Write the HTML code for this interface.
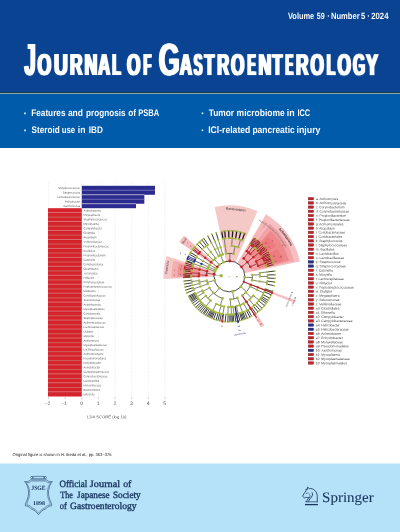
<!DOCTYPE html>
<html lang="en"><head><meta charset="utf-8"><title>Journal of Gastroenterology</title>
<style>html,body{margin:0;padding:0;background:#fff}body{width:400px;height:532px;overflow:hidden}svg{display:block}</style>
</head><body>
<svg width="400" height="532" viewBox="0 0 400 532" text-rendering="geometricPrecision">
<rect x="0" y="0" width="400" height="532" fill="#ffffff"/>
<rect x="0" y="0" width="400" height="92" fill="#0a4391"/>
<rect x="0" y="92" width="400" height="1" fill="#1c3f45"/>
<rect x="0" y="93" width="400" height="1" fill="#7faaae"/>
<rect x="0" y="94" width="400" height="54" fill="#005baa"/>
<rect x="0" y="463" width="400" height="1" fill="#dbf0fc"/>
<rect x="0" y="464" width="400" height="68" fill="#b6e2f9"/>
<text y="18.5" font-family="Liberation Sans, Arial, sans-serif" font-size="9.1" font-weight="bold" fill="#f4f8fd" transform="rotate(0.02)" ><tspan x="287.95" textLength="26.30" lengthAdjust="spacingAndGlyphs">Volume</tspan> <tspan x="316.78" textLength="7.99" lengthAdjust="spacingAndGlyphs">59</tspan> <tspan x="327.31" textLength="2.84" lengthAdjust="spacingAndGlyphs">·</tspan> <tspan x="330.99" textLength="28.62" lengthAdjust="spacingAndGlyphs">Number</tspan> <tspan x="360.97" textLength="4.25" lengthAdjust="spacingAndGlyphs">5</tspan> <tspan x="367.31" textLength="2.84" lengthAdjust="spacingAndGlyphs">·</tspan> <tspan x="371.23" textLength="17.31" lengthAdjust="spacingAndGlyphs">2024</tspan></text>
<defs><filter id="fat" x="-2%" y="-10%" width="104%" height="120%"><feOffset in="SourceGraphic" dx="-0.75" dy="0" result="a"/><feOffset in="SourceGraphic" dx="0.75" dy="0" result="b"/><feMerge><feMergeNode in="a"/><feMergeNode in="SourceGraphic"/><feMergeNode in="b"/></feMerge></filter></defs>
<text y="75.05" font-family="Liberation Sans, Arial, sans-serif" font-size="30.5" font-weight="bold" fill="#fff" filter="url(#fat)" transform="rotate(0.02)" aria-label="JOURNAL OF GASTROENTEROLOGY"><tspan x="24.45" textLength="11.18" lengthAdjust="spacingAndGlyphs" font-size="45.0">J</tspan><tspan x="37.52" textLength="13.77" lengthAdjust="spacingAndGlyphs">O</tspan><tspan x="54.10" textLength="13.82" lengthAdjust="spacingAndGlyphs">U</tspan><tspan x="70.09" textLength="12.51" lengthAdjust="spacingAndGlyphs">R</tspan><tspan x="84.56" textLength="12.90" lengthAdjust="spacingAndGlyphs">N</tspan><tspan x="98.34" textLength="11.84" lengthAdjust="spacingAndGlyphs">A</tspan><tspan x="112.34" textLength="8.33" lengthAdjust="spacingAndGlyphs">L</tspan> <tspan x="127.04" textLength="13.43" lengthAdjust="spacingAndGlyphs">O</tspan><tspan x="143.39" textLength="7.83" lengthAdjust="spacingAndGlyphs">F</tspan> <tspan x="158.64" textLength="20.98" lengthAdjust="spacingAndGlyphs" font-size="45.0">G</tspan><tspan x="179.82" textLength="12.38" lengthAdjust="spacingAndGlyphs">A</tspan><tspan x="193.87" textLength="8.68" lengthAdjust="spacingAndGlyphs">S</tspan><tspan x="204.57" textLength="9.85" lengthAdjust="spacingAndGlyphs">T</tspan><tspan x="217.14" textLength="11.95" lengthAdjust="spacingAndGlyphs">R</tspan><tspan x="231.04" textLength="13.43" lengthAdjust="spacingAndGlyphs">O</tspan><tspan x="247.42" textLength="8.32" lengthAdjust="spacingAndGlyphs">E</tspan><tspan x="258.56" textLength="12.90" lengthAdjust="spacingAndGlyphs">N</tspan><tspan x="272.57" textLength="9.85" lengthAdjust="spacingAndGlyphs">T</tspan><tspan x="285.47" textLength="7.73" lengthAdjust="spacingAndGlyphs">E</tspan><tspan x="296.09" textLength="12.51" lengthAdjust="spacingAndGlyphs">R</tspan><tspan x="310.54" textLength="13.43" lengthAdjust="spacingAndGlyphs">O</tspan><tspan x="326.82" textLength="8.45" lengthAdjust="spacingAndGlyphs">L</tspan><tspan x="337.54" textLength="13.43" lengthAdjust="spacingAndGlyphs">O</tspan><tspan x="353.11" textLength="12.10" lengthAdjust="spacingAndGlyphs">G</tspan><tspan x="365.94" textLength="12.10" lengthAdjust="spacingAndGlyphs">Y</tspan></text>
<text y="115.6" font-family="Liberation Sans, Arial, sans-serif" font-size="9.6" font-weight="bold" fill="#f6f9fd" transform="rotate(0.02)" ><tspan x="31.25" textLength="34.29" lengthAdjust="spacingAndGlyphs">Features</tspan> <tspan x="67.95" textLength="15.11" lengthAdjust="spacingAndGlyphs">and</tspan> <tspan x="86.16" textLength="39.37" lengthAdjust="spacingAndGlyphs">prognosis</tspan> <tspan x="128.18" textLength="7.81" lengthAdjust="spacingAndGlyphs">of</tspan> <tspan x="138.19" textLength="21.01" lengthAdjust="spacingAndGlyphs">PSBA</tspan></text>
<text y="133.2" font-family="Liberation Sans, Arial, sans-serif" font-size="9.6" font-weight="bold" fill="#f6f9fd" transform="rotate(0.02)" ><tspan x="31.56" textLength="28.17" lengthAdjust="spacingAndGlyphs">Steroid</tspan> <tspan x="61.71" textLength="13.56" lengthAdjust="spacingAndGlyphs">use</tspan> <tspan x="77.90" textLength="7.63" lengthAdjust="spacingAndGlyphs">in</tspan> <tspan x="88.75" textLength="14.09" lengthAdjust="spacingAndGlyphs">IBD</tspan></text>
<text y="115.6" font-family="Liberation Sans, Arial, sans-serif" font-size="9.6" font-weight="bold" fill="#f6f9fd" transform="rotate(0.02)" ><tspan x="208.71" textLength="25.42" lengthAdjust="spacingAndGlyphs">Tumor</tspan> <tspan x="236.64" textLength="48.15" lengthAdjust="spacingAndGlyphs">microbiome</tspan> <tspan x="286.88" textLength="7.87" lengthAdjust="spacingAndGlyphs">in</tspan> <tspan x="297.51" textLength="12.69" lengthAdjust="spacingAndGlyphs">ICC</tspan></text>
<text y="133.2" font-family="Liberation Sans, Arial, sans-serif" font-size="9.6" font-weight="bold" fill="#f6f9fd" transform="rotate(0.02)" ><tspan x="208.22" textLength="42.14" lengthAdjust="spacingAndGlyphs">ICl-related</tspan> <tspan x="252.44" textLength="42.31" lengthAdjust="spacingAndGlyphs">pancreatic</tspan> <tspan x="296.59" textLength="23.96" lengthAdjust="spacingAndGlyphs">injury</tspan></text>
<text y="116.96" font-family="Liberation Sans, Arial, sans-serif" font-size="11" font-weight="bold" fill="#e6eef9" transform="rotate(0.02)" ><tspan x="23.52" textLength="3.55" lengthAdjust="spacingAndGlyphs">·</tspan></text>
<text y="134.36" font-family="Liberation Sans, Arial, sans-serif" font-size="11" font-weight="bold" fill="#e6eef9" transform="rotate(0.02)" ><tspan x="23.52" textLength="3.55" lengthAdjust="spacingAndGlyphs">·</tspan></text>
<text y="116.96" font-family="Liberation Sans, Arial, sans-serif" font-size="11" font-weight="bold" fill="#e6eef9" transform="rotate(0.02)" ><tspan x="201.02" textLength="3.55" lengthAdjust="spacingAndGlyphs">·</tspan></text>
<text y="134.36" font-family="Liberation Sans, Arial, sans-serif" font-size="11" font-weight="bold" fill="#e6eef9" transform="rotate(0.02)" ><tspan x="201.02" textLength="3.55" lengthAdjust="spacingAndGlyphs">·</tspan></text>
<g id="bars">
<line x1="48.54" y1="182" x2="48.54" y2="398" stroke="#c9c9c9" stroke-width="0.45" stroke-dasharray="0.5 0.9"/>
<line x1="48.54" y1="397.6" x2="48.54" y2="399.2" stroke="#777" stroke-width="0.4"/>
<line x1="65.17" y1="182" x2="65.17" y2="398" stroke="#c9c9c9" stroke-width="0.45" stroke-dasharray="0.5 0.9"/>
<line x1="65.17" y1="397.6" x2="65.17" y2="399.2" stroke="#777" stroke-width="0.4"/>
<line x1="81.80" y1="182" x2="81.80" y2="398" stroke="#c9c9c9" stroke-width="0.45" stroke-dasharray="0.5 0.9"/>
<line x1="81.80" y1="397.6" x2="81.80" y2="399.2" stroke="#777" stroke-width="0.4"/>
<line x1="98.43" y1="182" x2="98.43" y2="398" stroke="#c9c9c9" stroke-width="0.45" stroke-dasharray="0.5 0.9"/>
<line x1="98.43" y1="397.6" x2="98.43" y2="399.2" stroke="#777" stroke-width="0.4"/>
<line x1="115.06" y1="182" x2="115.06" y2="398" stroke="#c9c9c9" stroke-width="0.45" stroke-dasharray="0.5 0.9"/>
<line x1="115.06" y1="397.6" x2="115.06" y2="399.2" stroke="#777" stroke-width="0.4"/>
<line x1="131.69" y1="182" x2="131.69" y2="398" stroke="#c9c9c9" stroke-width="0.45" stroke-dasharray="0.5 0.9"/>
<line x1="131.69" y1="397.6" x2="131.69" y2="399.2" stroke="#777" stroke-width="0.4"/>
<line x1="148.32" y1="182" x2="148.32" y2="398" stroke="#c9c9c9" stroke-width="0.45" stroke-dasharray="0.5 0.9"/>
<line x1="148.32" y1="397.6" x2="148.32" y2="399.2" stroke="#777" stroke-width="0.4"/>
<line x1="164.95" y1="182" x2="164.95" y2="398" stroke="#c9c9c9" stroke-width="0.45" stroke-dasharray="0.5 0.9"/>
<line x1="164.95" y1="397.6" x2="164.95" y2="399.2" stroke="#777" stroke-width="0.4"/>
<rect x="81.8" y="185.8" width="73.17" height="8.97" fill="#2b2b8d"/>
<rect x="81.8" y="194.77" width="62.53" height="8.97" fill="#2b2b8d"/>
<rect x="81.8" y="203.73" width="54.21" height="4.48" fill="#2b2b8d"/>
<rect x="48.0" y="208.21" width="33.80" height="188.29" fill="#d7232b"/>
<line x1="81.8" y1="190.28" x2="154.97" y2="190.28" stroke="#8a87c9" stroke-width="0.7"/>
<line x1="81.8" y1="194.77" x2="144.33" y2="194.77" stroke="#efeffa" stroke-width="0.55"/>
<line x1="81.8" y1="199.25" x2="144.33" y2="199.25" stroke="#8a87c9" stroke-width="0.7"/>
<line x1="81.8" y1="203.73" x2="136.01" y2="203.73" stroke="#efeffa" stroke-width="0.55"/>
<line x1="48.0" y1="212.60" x2="81.8" y2="212.60" stroke="#f9c6c6" stroke-width="0.55"/>
<line x1="48.0" y1="213.15" x2="81.8" y2="213.15" stroke="#9c1a1f" stroke-width="0.3"/>
<line x1="48.0" y1="217.18" x2="81.8" y2="217.18" stroke="#c9776f" stroke-width="0.75"/>
<line x1="48.0" y1="221.56" x2="81.8" y2="221.56" stroke="#f9c6c6" stroke-width="0.55"/>
<line x1="48.0" y1="222.11" x2="81.8" y2="222.11" stroke="#9c1a1f" stroke-width="0.3"/>
<line x1="48.0" y1="226.15" x2="81.8" y2="226.15" stroke="#c9776f" stroke-width="0.75"/>
<line x1="48.0" y1="230.53" x2="81.8" y2="230.53" stroke="#f9c6c6" stroke-width="0.55"/>
<line x1="48.0" y1="231.08" x2="81.8" y2="231.08" stroke="#9c1a1f" stroke-width="0.3"/>
<line x1="48.0" y1="235.11" x2="81.8" y2="235.11" stroke="#c9776f" stroke-width="0.75"/>
<line x1="48.0" y1="239.50" x2="81.8" y2="239.50" stroke="#f9c6c6" stroke-width="0.55"/>
<line x1="48.0" y1="240.05" x2="81.8" y2="240.05" stroke="#9c1a1f" stroke-width="0.3"/>
<line x1="48.0" y1="244.08" x2="81.8" y2="244.08" stroke="#c9776f" stroke-width="0.75"/>
<line x1="48.0" y1="248.46" x2="81.8" y2="248.46" stroke="#f9c6c6" stroke-width="0.55"/>
<line x1="48.0" y1="249.01" x2="81.8" y2="249.01" stroke="#9c1a1f" stroke-width="0.3"/>
<line x1="48.0" y1="253.04" x2="81.8" y2="253.04" stroke="#c9776f" stroke-width="0.75"/>
<line x1="48.0" y1="257.43" x2="81.8" y2="257.43" stroke="#f9c6c6" stroke-width="0.55"/>
<line x1="48.0" y1="257.98" x2="81.8" y2="257.98" stroke="#9c1a1f" stroke-width="0.3"/>
<line x1="48.0" y1="262.01" x2="81.8" y2="262.01" stroke="#c9776f" stroke-width="0.75"/>
<line x1="48.0" y1="266.39" x2="81.8" y2="266.39" stroke="#f9c6c6" stroke-width="0.55"/>
<line x1="48.0" y1="266.94" x2="81.8" y2="266.94" stroke="#9c1a1f" stroke-width="0.3"/>
<line x1="48.0" y1="270.98" x2="81.8" y2="270.98" stroke="#c9776f" stroke-width="0.75"/>
<line x1="48.0" y1="275.36" x2="81.8" y2="275.36" stroke="#f9c6c6" stroke-width="0.55"/>
<line x1="48.0" y1="275.91" x2="81.8" y2="275.91" stroke="#9c1a1f" stroke-width="0.3"/>
<line x1="48.0" y1="279.94" x2="81.8" y2="279.94" stroke="#c9776f" stroke-width="0.75"/>
<line x1="48.0" y1="284.33" x2="81.8" y2="284.33" stroke="#f9c6c6" stroke-width="0.55"/>
<line x1="48.0" y1="284.88" x2="81.8" y2="284.88" stroke="#9c1a1f" stroke-width="0.3"/>
<line x1="48.0" y1="288.91" x2="81.8" y2="288.91" stroke="#c9776f" stroke-width="0.75"/>
<line x1="48.0" y1="293.29" x2="81.8" y2="293.29" stroke="#f9c6c6" stroke-width="0.55"/>
<line x1="48.0" y1="293.84" x2="81.8" y2="293.84" stroke="#9c1a1f" stroke-width="0.3"/>
<line x1="48.0" y1="297.87" x2="81.8" y2="297.87" stroke="#c9776f" stroke-width="0.75"/>
<line x1="48.0" y1="302.26" x2="81.8" y2="302.26" stroke="#f9c6c6" stroke-width="0.55"/>
<line x1="48.0" y1="302.81" x2="81.8" y2="302.81" stroke="#9c1a1f" stroke-width="0.3"/>
<line x1="48.0" y1="306.84" x2="81.8" y2="306.84" stroke="#c9776f" stroke-width="0.75"/>
<line x1="48.0" y1="311.22" x2="81.8" y2="311.22" stroke="#f9c6c6" stroke-width="0.55"/>
<line x1="48.0" y1="311.77" x2="81.8" y2="311.77" stroke="#9c1a1f" stroke-width="0.3"/>
<line x1="48.0" y1="315.81" x2="81.8" y2="315.81" stroke="#c9776f" stroke-width="0.75"/>
<line x1="48.0" y1="320.19" x2="81.8" y2="320.19" stroke="#f9c6c6" stroke-width="0.55"/>
<line x1="48.0" y1="320.74" x2="81.8" y2="320.74" stroke="#9c1a1f" stroke-width="0.3"/>
<line x1="48.0" y1="324.77" x2="81.8" y2="324.77" stroke="#c9776f" stroke-width="0.75"/>
<line x1="48.0" y1="329.16" x2="81.8" y2="329.16" stroke="#f9c6c6" stroke-width="0.55"/>
<line x1="48.0" y1="329.71" x2="81.8" y2="329.71" stroke="#9c1a1f" stroke-width="0.3"/>
<line x1="48.0" y1="333.74" x2="81.8" y2="333.74" stroke="#c9776f" stroke-width="0.75"/>
<line x1="48.0" y1="338.12" x2="81.8" y2="338.12" stroke="#f9c6c6" stroke-width="0.55"/>
<line x1="48.0" y1="338.67" x2="81.8" y2="338.67" stroke="#9c1a1f" stroke-width="0.3"/>
<line x1="48.0" y1="342.70" x2="81.8" y2="342.70" stroke="#c9776f" stroke-width="0.75"/>
<line x1="48.0" y1="347.09" x2="81.8" y2="347.09" stroke="#f9c6c6" stroke-width="0.55"/>
<line x1="48.0" y1="347.64" x2="81.8" y2="347.64" stroke="#9c1a1f" stroke-width="0.3"/>
<line x1="48.0" y1="351.67" x2="81.8" y2="351.67" stroke="#c9776f" stroke-width="0.75"/>
<line x1="48.0" y1="356.05" x2="81.8" y2="356.05" stroke="#f9c6c6" stroke-width="0.55"/>
<line x1="48.0" y1="356.60" x2="81.8" y2="356.60" stroke="#9c1a1f" stroke-width="0.3"/>
<line x1="48.0" y1="360.64" x2="81.8" y2="360.64" stroke="#c9776f" stroke-width="0.75"/>
<line x1="48.0" y1="365.02" x2="81.8" y2="365.02" stroke="#f9c6c6" stroke-width="0.55"/>
<line x1="48.0" y1="365.57" x2="81.8" y2="365.57" stroke="#9c1a1f" stroke-width="0.3"/>
<line x1="48.0" y1="369.60" x2="81.8" y2="369.60" stroke="#c9776f" stroke-width="0.75"/>
<line x1="48.0" y1="373.99" x2="81.8" y2="373.99" stroke="#f9c6c6" stroke-width="0.55"/>
<line x1="48.0" y1="374.54" x2="81.8" y2="374.54" stroke="#9c1a1f" stroke-width="0.3"/>
<line x1="48.0" y1="378.57" x2="81.8" y2="378.57" stroke="#c9776f" stroke-width="0.75"/>
<line x1="48.0" y1="382.95" x2="81.8" y2="382.95" stroke="#f9c6c6" stroke-width="0.55"/>
<line x1="48.0" y1="383.50" x2="81.8" y2="383.50" stroke="#9c1a1f" stroke-width="0.3"/>
<line x1="48.0" y1="387.53" x2="81.8" y2="387.53" stroke="#c9776f" stroke-width="0.75"/>
<line x1="48.0" y1="391.92" x2="81.8" y2="391.92" stroke="#f9c6c6" stroke-width="0.55"/>
<line x1="48.0" y1="392.47" x2="81.8" y2="392.47" stroke="#9c1a1f" stroke-width="0.3"/>
<g font-family="Liberation Sans, Arial, sans-serif" font-size="2.72" fill="#4a4a4a" transform="rotate(0.03)">
<text x="80.20" y="188.94" text-anchor="end">Streptococcaceae</text>
<text x="80.20" y="193.42" text-anchor="end">Streptococcus</text>
<text x="80.20" y="197.91" text-anchor="end">Helicobacteraceae</text>
<text x="80.20" y="202.39" text-anchor="end">Helicobacter</text>
<text x="80.20" y="206.87" text-anchor="end">Xanthomonas</text>
<text x="83.70" y="211.36">Actinobacteria</text>
<text x="83.70" y="215.84">Megasphaera</text>
<text x="83.70" y="220.32">Staphylococcaceae</text>
<text x="83.70" y="224.81">Mycoplasma</text>
<text x="83.70" y="229.29">Campylobacter</text>
<text x="83.70" y="233.77">Clostridia</text>
<text x="83.70" y="238.25">Atopobium</text>
<text x="83.70" y="242.74">Veillonellaceae</text>
<text x="83.70" y="247.22">Propionibacteriaceae</text>
<text x="83.70" y="251.70">Bacillales</text>
<text x="83.70" y="256.19">Propionibacterium</text>
<text x="83.70" y="260.67">Catonella</text>
<text x="83.70" y="265.15">Coriobacteriales</text>
<text x="83.70" y="269.64">Clostridiales</text>
<text x="83.70" y="274.12">Tenericutes</text>
<text x="83.70" y="278.60">Filifactor</text>
<text x="83.70" y="283.08">Corynebacterium</text>
<text x="83.70" y="287.57">Peptostreptococcaceae</text>
<text x="83.70" y="292.05">Mollicutes</text>
<text x="83.70" y="296.53">Coriobacteriaceae</text>
<text x="83.70" y="301.02">Selenomonas</text>
<text x="83.70" y="305.50">Actinobacteria</text>
<text x="83.70" y="309.98">Mycoplasmatales</text>
<text x="83.70" y="314.46">Coriobacteriia</text>
<text x="83.70" y="318.95">Staphylococcus</text>
<text x="83.70" y="323.43">Actinomycetaceae</text>
<text x="83.70" y="327.91">Lachnospiraceae</text>
<text x="83.70" y="332.40">Dialister</text>
<text x="83.70" y="336.88">Moryella</text>
<text x="83.70" y="341.36">Actinomyces</text>
<text x="83.70" y="345.85">Mycoplasmataceae</text>
<text x="83.70" y="350.33">Lactobacillaceae</text>
<text x="83.70" y="354.81">Actinomycetales</text>
<text x="83.70" y="359.29">Pseudomonadales</text>
<text x="83.70" y="363.78">Enhydrobacter</text>
<text x="83.70" y="368.26">Acinetobacter</text>
<text x="83.70" y="372.74">Campylobacteraceae</text>
<text x="83.70" y="377.23">Corynebacteriaceae</text>
<text x="83.70" y="381.71">Lactobacillus</text>
<text x="83.70" y="386.19">Moraxellaceae</text>
<text x="83.70" y="390.68">Bacteroidetes</text>
<text x="83.70" y="395.16">Eikenella</text>
</g>
<g font-family="Liberation Sans, Arial, sans-serif" font-size="5.1" fill="#5a5a5a" text-anchor="middle" transform="rotate(0.03)">
<text x="47.64" y="405">−2</text>
<text x="64.27" y="405">−1</text>
<text x="81.80" y="405">0</text>
<text x="98.43" y="405">1</text>
<text x="115.06" y="405">2</text>
<text x="131.69" y="405">3</text>
<text x="148.32" y="405">4</text>
<text x="164.95" y="405">5</text>
</g>
<text x="107" y="418.1" font-family="Liberation Sans, Arial, sans-serif" font-size="3.9" fill="#555" text-anchor="middle" textLength="39.4" lengthAdjust="spacingAndGlyphs" transform="rotate(0.03)">LDA SCORE (log 10)</text>
</g>
<g id="clado">
<path d="M257.48 211.19A71 71 0 0 0 214.64 206.95L226.20 261.34A15.4 15.4 0 0 1 235.49 262.26Z" fill="#f6c9c9" fill-opacity="1"/>
<path d="M299.83 261.43A72 72 0 0 0 265.94 214.36L237.22 263.13A15.4 15.4 0 0 1 244.46 273.20Z" fill="#f6c0c2" fill-opacity="1"/>
<path d="M293.87 260.92A66.3 66.3 0 0 0 269.76 223.80L243.40 258.15A23 23 0 0 1 251.76 271.03Z" fill="#f3a3a6" fill-opacity="1"/>
<path d="M288.80 260.48A61.5 61.5 0 0 0 270.55 230.70L249.88 253.66A30.6 30.6 0 0 1 258.96 268.48Z" fill="#ef888b" fill-opacity="1"/>
<path d="M282.75 261.10A55.5 55.5 0 0 0 277.46 248.65L262.48 257.30A38.2 38.2 0 0 1 266.12 265.87Z" fill="#ec7a7e" fill-opacity="1"/>
<path d="M275.95 246.17A55.5 55.5 0 0 0 267.95 236.48L255.94 248.92A38.2 38.2 0 0 1 261.44 255.59Z" fill="#ec7a7e" fill-opacity="1"/>
<path d="M268.37 222.76A66.3 66.3 0 0 0 264.04 219.87L241.42 256.79A23 23 0 0 1 242.92 257.79Z" fill="#f5b4b6" fill-opacity="1"/>
<path d="M166.63 256.00A66 66 0 0 0 163.45 279.05L214.01 277.02A15.4 15.4 0 0 1 214.75 271.64Z" fill="#f6c9c9" fill-opacity="1"/>
<path d="M173.65 260.41A58 58 0 0 0 171.41 277.41L206.40 276.80A23 23 0 0 1 207.29 270.06Z" fill="#f3aeb0" fill-opacity="1"/>
<path d="M178.94 263.82A52 52 0 0 0 177.40 276.40L198.80 276.40A30.6 30.6 0 0 1 199.71 269.00Z" fill="#ef9296" fill-opacity="1"/>
<path d="M184.22 235.72A60.8 60.8 0 0 0 179.29 241.96L210.45 263.37A23 23 0 0 1 212.31 261.01Z" fill="#f4bcbe" fill-opacity="1"/>
<path d="M294.67 303.04A70.5 70.5 0 0 0 295.73 300.28L243.89 281.62A15.4 15.4 0 0 1 243.66 282.22Z" fill="#f6c0c2" fill-opacity="1"/>
<path d="M273.10 293.70A47 47 0 0 0 273.45 292.78L243.83 281.77A15.4 15.4 0 0 1 243.72 282.07Z" fill="#e05a60" fill-opacity="1"/>
<path d="M260.93 327.45A60 60 0 0 0 264.41 325.13L256.24 313.76A46 46 0 0 1 253.57 315.54Z" fill="#f6c4c6" fill-opacity="1"/>
<line x1="241.49" y1="266.86" x2="247.46" y2="262.16" stroke="#8e1820" stroke-width="0.7"/>
<line x1="250.30" y1="266.79" x2="257.20" y2="263.61" stroke="#8e1820" stroke-width="0.7"/>
<line x1="258.14" y1="265.88" x2="265.27" y2="263.27" stroke="#8e1820" stroke-width="0.7"/>
<line x1="266.31" y1="266.55" x2="273.46" y2="264.65" stroke="#5e0d14" stroke-width="0.85"/>
<line x1="265.77" y1="264.72" x2="272.82" y2="262.46" stroke="#5e0d14" stroke-width="0.85"/>
<line x1="265.14" y1="262.91" x2="272.06" y2="260.30" stroke="#8e1820" stroke-width="0.85"/>
<line x1="264.61" y1="261.58" x2="271.43" y2="258.71" stroke="#5e0d14" stroke-width="0.85"/>
<line x1="264.22" y1="260.70" x2="270.97" y2="257.66" stroke="#8e1820" stroke-width="0.85"/>
<line x1="256.09" y1="261.43" x2="262.72" y2="257.71" stroke="#8e1820" stroke-width="0.7"/>
<line x1="263.61" y1="259.40" x2="270.24" y2="256.11" stroke="#8e1820" stroke-width="0.85"/>
<line x1="262.95" y1="258.13" x2="269.45" y2="254.59" stroke="#8e1820" stroke-width="0.85"/>
<line x1="262.48" y1="257.30" x2="268.89" y2="253.59" stroke="#8e1820" stroke-width="0.85"/>
<line x1="261.74" y1="256.07" x2="268.00" y2="252.13" stroke="#5e0d14" stroke-width="0.85"/>
<line x1="247.37" y1="262.04" x2="253.31" y2="257.30" stroke="#8e1820" stroke-width="0.7"/>
<line x1="253.31" y1="257.30" x2="259.25" y2="252.56" stroke="#8e1820" stroke-width="0.7"/>
<line x1="260.68" y1="254.47" x2="266.74" y2="250.22" stroke="#8e1820" stroke-width="0.85"/>
<line x1="259.83" y1="253.31" x2="265.73" y2="248.84" stroke="#8e1820" stroke-width="0.85"/>
<line x1="259.25" y1="252.56" x2="265.03" y2="247.94" stroke="#8e1820" stroke-width="0.85"/>
<line x1="258.64" y1="251.82" x2="264.30" y2="247.05" stroke="#5e0d14" stroke-width="0.85"/>
<line x1="257.69" y1="250.74" x2="263.18" y2="245.76" stroke="#8e1820" stroke-width="0.85"/>
<line x1="243.73" y1="258.41" x2="248.47" y2="252.47" stroke="#8e1820" stroke-width="0.7"/>
<line x1="250.27" y1="254.02" x2="255.45" y2="248.46" stroke="#8e1820" stroke-width="0.7"/>
<line x1="256.37" y1="249.35" x2="261.60" y2="244.11" stroke="#5e0d14" stroke-width="0.85"/>
<line x1="255.34" y1="248.36" x2="260.36" y2="242.92" stroke="#5e0d14" stroke-width="0.85"/>
<line x1="254.63" y1="247.72" x2="259.51" y2="242.16" stroke="#5e0d14" stroke-width="0.85"/>
<line x1="248.43" y1="252.44" x2="253.16" y2="246.49" stroke="#8e1820" stroke-width="0.7"/>
<line x1="253.90" y1="247.09" x2="258.65" y2="241.41" stroke="#5e0d14" stroke-width="0.85"/>
<line x1="253.16" y1="246.49" x2="257.76" y2="240.69" stroke="#8e1820" stroke-width="0.85"/>
<line x1="252.40" y1="245.90" x2="256.86" y2="239.99" stroke="#8e1820" stroke-width="0.85"/>
<line x1="246.58" y1="251.08" x2="250.85" y2="244.79" stroke="#8e1820" stroke-width="0.7"/>
<line x1="251.63" y1="245.34" x2="255.94" y2="239.32" stroke="#8e1820" stroke-width="0.85"/>
<line x1="250.85" y1="244.79" x2="255.00" y2="238.66" stroke="#8e1820" stroke-width="0.85"/>
<line x1="250.05" y1="244.26" x2="254.05" y2="238.03" stroke="#5e0d14" stroke-width="0.85"/>
<line x1="229.77" y1="261.00" x2="229.95" y2="253.41" stroke="#505048" stroke-width="0.7"/>
<line x1="233.62" y1="253.79" x2="235.02" y2="246.32" stroke="#505048" stroke-width="0.7"/>
<line x1="238.31" y1="247.13" x2="240.52" y2="239.85" stroke="#505048" stroke-width="0.7"/>
<line x1="242.13" y1="240.38" x2="244.59" y2="233.41" stroke="#1a1a1a" stroke-width="1.25"/>
<line x1="238.89" y1="239.40" x2="240.73" y2="232.23" stroke="#1a1a1a" stroke-width="1.25"/>
<line x1="231.66" y1="245.88" x2="232.22" y2="238.30" stroke="#505048" stroke-width="0.7"/>
<line x1="235.58" y1="238.70" x2="236.78" y2="231.40" stroke="#1a1a1a" stroke-width="1.25"/>
<line x1="232.22" y1="238.30" x2="232.76" y2="230.92" stroke="#1a1a1a" stroke-width="1.25"/>
<line x1="228.84" y1="238.20" x2="228.73" y2="230.80" stroke="#1a1a1a" stroke-width="1.25"/>
<line x1="226.27" y1="253.61" x2="225.23" y2="246.09" stroke="#505048" stroke-width="0.7"/>
<line x1="225.23" y1="246.09" x2="224.20" y2="238.56" stroke="#505048" stroke-width="0.7"/>
<line x1="225.46" y1="238.40" x2="224.69" y2="231.04" stroke="#1a1a1a" stroke-width="1.25"/>
<line x1="222.94" y1="238.75" x2="221.69" y2="231.46" stroke="#1a1a1a" stroke-width="1.25"/>
<line x1="223.51" y1="262.17" x2="220.60" y2="255.15" stroke="#505048" stroke-width="0.7"/>
<line x1="222.74" y1="254.39" x2="220.54" y2="247.11" stroke="#505048" stroke-width="0.7"/>
<line x1="220.54" y1="247.11" x2="218.34" y2="239.84" stroke="#505048" stroke-width="0.7"/>
<line x1="218.34" y1="239.84" x2="216.19" y2="232.75" stroke="#1a1a1a" stroke-width="0.85"/>
<line x1="220.60" y1="255.15" x2="217.69" y2="248.13" stroke="#505048" stroke-width="0.7"/>
<line x1="217.69" y1="248.13" x2="214.78" y2="241.11" stroke="#505048" stroke-width="0.7"/>
<line x1="214.78" y1="241.11" x2="211.95" y2="234.27" stroke="#1a1a1a" stroke-width="0.85"/>
<line x1="218.54" y1="256.12" x2="214.96" y2="249.42" stroke="#505048" stroke-width="0.7"/>
<line x1="214.96" y1="249.42" x2="211.37" y2="242.72" stroke="#505048" stroke-width="0.7"/>
<line x1="211.37" y1="242.72" x2="207.88" y2="236.20" stroke="#1a1a1a" stroke-width="0.85"/>
<line x1="219.26" y1="264.81" x2="214.26" y2="259.09" stroke="#505048" stroke-width="0.7"/>
<line x1="215.45" y1="258.11" x2="210.84" y2="252.07" stroke="#505048" stroke-width="0.7"/>
<line x1="210.84" y1="252.07" x2="206.23" y2="246.03" stroke="#505048" stroke-width="0.7"/>
<line x1="208.04" y1="244.73" x2="203.90" y2="238.60" stroke="#1a1a1a" stroke-width="0.85"/>
<line x1="206.41" y1="245.89" x2="201.96" y2="239.98" stroke="#1a1a1a" stroke-width="0.85"/>
<line x1="204.34" y1="247.57" x2="199.48" y2="241.99" stroke="#1a1a1a" stroke-width="0.85"/>
<line x1="213.14" y1="260.14" x2="207.76" y2="254.76" stroke="#505048" stroke-width="0.7"/>
<line x1="207.76" y1="254.76" x2="202.39" y2="249.39" stroke="#505048" stroke-width="0.7"/>
<line x1="202.39" y1="249.39" x2="197.16" y2="244.16" stroke="#1a1a1a" stroke-width="0.85"/>
<line x1="217.21" y1="266.99" x2="211.19" y2="262.35" stroke="#8e1820" stroke-width="0.7"/>
<line x1="211.19" y1="262.35" x2="205.18" y2="257.70" stroke="#8e1820" stroke-width="0.7"/>
<line x1="205.18" y1="257.70" x2="199.16" y2="253.06" stroke="#8e1820" stroke-width="0.7"/>
<line x1="200.05" y1="251.95" x2="194.37" y2="247.21" stroke="#8e1820" stroke-width="0.85"/>
<line x1="199.05" y1="253.20" x2="193.17" y2="248.70" stroke="#8e1820" stroke-width="0.85"/>
<line x1="198.42" y1="254.05" x2="192.42" y2="249.73" stroke="#8e1820" stroke-width="0.85"/>
<line x1="216.10" y1="268.63" x2="209.54" y2="264.80" stroke="#505048" stroke-width="0.7"/>
<line x1="209.54" y1="264.80" x2="202.98" y2="260.97" stroke="#505048" stroke-width="0.7"/>
<line x1="202.98" y1="260.97" x2="196.42" y2="257.13" stroke="#505048" stroke-width="0.7"/>
<line x1="196.89" y1="256.35" x2="190.59" y2="252.46" stroke="#1a1a1a" stroke-width="0.85"/>
<line x1="195.96" y1="257.93" x2="189.49" y2="254.35" stroke="#1a1a1a" stroke-width="0.85"/>
<line x1="215.36" y1="270.07" x2="208.43" y2="266.95" stroke="#505048" stroke-width="0.7"/>
<line x1="208.43" y1="266.95" x2="201.50" y2="263.83" stroke="#505048" stroke-width="0.7"/>
<line x1="201.50" y1="263.83" x2="194.57" y2="260.71" stroke="#23256e" stroke-width="0.7"/>
<line x1="195.09" y1="259.60" x2="188.44" y2="256.35" stroke="#23256e" stroke-width="0.85"/>
<line x1="194.57" y1="260.71" x2="187.82" y2="257.67" stroke="#23256e" stroke-width="0.85"/>
<line x1="194.09" y1="261.83" x2="187.25" y2="259.01" stroke="#23256e" stroke-width="0.85"/>
<line x1="214.88" y1="271.26" x2="207.72" y2="268.72" stroke="#505048" stroke-width="0.7"/>
<line x1="207.72" y1="268.72" x2="200.56" y2="266.19" stroke="#505048" stroke-width="0.7"/>
<line x1="200.56" y1="266.19" x2="193.39" y2="263.65" stroke="#505048" stroke-width="0.7"/>
<line x1="193.50" y1="263.33" x2="186.55" y2="260.80" stroke="#1a1a1a" stroke-width="0.85"/>
<line x1="193.28" y1="263.96" x2="186.28" y2="261.55" stroke="#1a1a1a" stroke-width="0.85"/>
<line x1="214.15" y1="274.27" x2="206.62" y2="273.22" stroke="#8e1820" stroke-width="0.7"/>
<line x1="206.99" y1="271.23" x2="199.58" y2="269.52" stroke="#8e1820" stroke-width="0.7"/>
<line x1="199.58" y1="269.52" x2="192.18" y2="267.81" stroke="#8e1820" stroke-width="0.7"/>
<line x1="192.82" y1="265.39" x2="185.73" y2="263.26" stroke="#5e0d14" stroke-width="0.85"/>
<line x1="192.42" y1="266.84" x2="185.25" y2="264.98" stroke="#5e0d14" stroke-width="0.85"/>
<line x1="191.97" y1="268.78" x2="184.72" y2="267.31" stroke="#8e1820" stroke-width="0.85"/>
<line x1="191.70" y1="270.26" x2="184.39" y2="269.07" stroke="#5e0d14" stroke-width="0.85"/>
<line x1="206.43" y1="275.25" x2="198.84" y2="274.87" stroke="#8e1820" stroke-width="0.7"/>
<line x1="198.94" y1="273.47" x2="191.38" y2="272.74" stroke="#8e1820" stroke-width="0.7"/>
<line x1="191.48" y1="271.74" x2="184.14" y2="270.84" stroke="#5e0d14" stroke-width="0.85"/>
<line x1="191.29" y1="273.74" x2="183.91" y2="273.22" stroke="#8e1820" stroke-width="0.85"/>
<line x1="198.80" y1="276.27" x2="191.20" y2="276.23" stroke="#8e1820" stroke-width="0.7"/>
<line x1="191.22" y1="275.23" x2="183.82" y2="275.01" stroke="#5e0d14" stroke-width="0.85"/>
<line x1="191.20" y1="276.23" x2="183.80" y2="276.20" stroke="#5e0d14" stroke-width="0.85"/>
<line x1="191.21" y1="277.23" x2="183.81" y2="277.39" stroke="#5e0d14" stroke-width="0.85"/>
<line x1="214.52" y1="280.37" x2="207.18" y2="282.32" stroke="#505048" stroke-width="0.7"/>
<line x1="206.80" y1="280.65" x2="199.33" y2="282.06" stroke="#505048" stroke-width="0.7"/>
<line x1="199.08" y1="280.55" x2="191.55" y2="281.58" stroke="#505048" stroke-width="0.7"/>
<line x1="191.40" y1="280.33" x2="184.04" y2="281.09" stroke="#1a1a1a" stroke-width="0.85"/>
<line x1="191.75" y1="282.84" x2="184.45" y2="284.08" stroke="#1a1a1a" stroke-width="0.85"/>
<line x1="199.65" y1="283.54" x2="192.26" y2="285.32" stroke="#505048" stroke-width="0.7"/>
<line x1="192.26" y1="285.32" x2="185.06" y2="287.05" stroke="#1a1a1a" stroke-width="0.85"/>
<line x1="207.68" y1="283.96" x2="200.50" y2="286.46" stroke="#505048" stroke-width="0.7"/>
<line x1="200.50" y1="286.46" x2="193.32" y2="288.96" stroke="#505048" stroke-width="0.7"/>
<line x1="192.93" y1="287.76" x2="185.86" y2="289.96" stroke="#1a1a1a" stroke-width="0.85"/>
<line x1="193.76" y1="290.15" x2="186.86" y2="292.82" stroke="#1a1a1a" stroke-width="0.85"/>
<line x1="219.38" y1="288.10" x2="214.44" y2="293.87" stroke="#505048" stroke-width="0.7"/>
<line x1="209.44" y1="287.83" x2="202.85" y2="291.61" stroke="#505048" stroke-width="0.7"/>
<line x1="202.23" y1="290.48" x2="195.49" y2="293.98" stroke="#505048" stroke-width="0.7"/>
<line x1="195.01" y1="293.03" x2="188.35" y2="296.25" stroke="#1a1a1a" stroke-width="0.85"/>
<line x1="195.49" y1="293.98" x2="188.92" y2="297.39" stroke="#1a1a1a" stroke-width="0.85"/>
<line x1="195.99" y1="294.92" x2="189.52" y2="298.51" stroke="#1a1a1a" stroke-width="0.85"/>
<line x1="203.51" y1="292.71" x2="197.08" y2="296.76" stroke="#505048" stroke-width="0.7"/>
<line x1="196.52" y1="295.85" x2="190.15" y2="299.61" stroke="#1a1a1a" stroke-width="0.85"/>
<line x1="197.08" y1="296.76" x2="190.81" y2="300.70" stroke="#1a1a1a" stroke-width="0.85"/>
<line x1="197.66" y1="297.65" x2="191.51" y2="301.77" stroke="#1a1a1a" stroke-width="0.85"/>
<line x1="213.33" y1="292.86" x2="208.02" y2="298.29" stroke="#505048" stroke-width="0.7"/>
<line x1="205.75" y1="295.82" x2="199.88" y2="300.65" stroke="#505048" stroke-width="0.7"/>
<line x1="198.57" y1="298.96" x2="192.60" y2="303.33" stroke="#1a1a1a" stroke-width="0.85"/>
<line x1="199.88" y1="300.65" x2="194.16" y2="305.34" stroke="#1a1a1a" stroke-width="0.85"/>
<line x1="201.28" y1="302.26" x2="195.83" y2="307.27" stroke="#1a1a1a" stroke-width="0.85"/>
<line x1="210.55" y1="300.50" x2="205.87" y2="306.49" stroke="#505048" stroke-width="0.7"/>
<line x1="202.39" y1="303.41" x2="197.16" y2="308.64" stroke="#1a1a1a" stroke-width="0.85"/>
<line x1="203.54" y1="304.52" x2="198.53" y2="309.97" stroke="#1a1a1a" stroke-width="0.85"/>
<line x1="204.74" y1="305.58" x2="199.97" y2="311.23" stroke="#1a1a1a" stroke-width="0.85"/>
<line x1="205.99" y1="306.58" x2="201.45" y2="312.43" stroke="#1a1a1a" stroke-width="0.85"/>
<line x1="207.27" y1="307.54" x2="202.98" y2="313.57" stroke="#1a1a1a" stroke-width="0.85"/>
<line x1="208.15" y1="308.14" x2="204.03" y2="314.29" stroke="#1a1a1a" stroke-width="0.85"/>
<line x1="209.50" y1="309.01" x2="205.64" y2="315.32" stroke="#1a1a1a" stroke-width="0.85"/>
<line x1="222.60" y1="298.37" x2="220.35" y2="305.63" stroke="#505048" stroke-width="0.7"/>
<line x1="216.08" y1="303.95" x2="212.77" y2="310.79" stroke="#505048" stroke-width="0.7"/>
<line x1="210.88" y1="309.81" x2="207.29" y2="316.28" stroke="#1a1a1a" stroke-width="0.85"/>
<line x1="211.82" y1="310.31" x2="208.41" y2="316.88" stroke="#1a1a1a" stroke-width="0.85"/>
<line x1="212.77" y1="310.79" x2="209.55" y2="317.45" stroke="#1a1a1a" stroke-width="0.85"/>
<line x1="213.74" y1="311.24" x2="210.71" y2="317.99" stroke="#1a1a1a" stroke-width="0.85"/>
<line x1="214.72" y1="311.67" x2="211.88" y2="318.50" stroke="#1a1a1a" stroke-width="0.85"/>
<line x1="220.97" y1="305.81" x2="218.87" y2="313.12" stroke="#505048" stroke-width="0.7"/>
<line x1="216.21" y1="312.25" x2="213.65" y2="319.20" stroke="#1a1a1a" stroke-width="0.85"/>
<line x1="218.23" y1="312.93" x2="216.07" y2="320.01" stroke="#1a1a1a" stroke-width="0.85"/>
<line x1="219.77" y1="313.37" x2="217.91" y2="320.53" stroke="#1a1a1a" stroke-width="0.85"/>
<line x1="221.33" y1="313.74" x2="219.76" y2="320.97" stroke="#1a1a1a" stroke-width="0.85"/>
<line x1="224.19" y1="306.55" x2="222.90" y2="314.04" stroke="#505048" stroke-width="0.7"/>
<line x1="222.90" y1="314.04" x2="221.64" y2="321.33" stroke="#1a1a1a" stroke-width="0.85"/>
<line x1="232.47" y1="291.49" x2="233.98" y2="298.94" stroke="#505048" stroke-width="0.7"/>
<line x1="230.43" y1="299.38" x2="230.78" y2="306.97" stroke="#505048" stroke-width="0.7"/>
<line x1="228.21" y1="306.98" x2="227.91" y2="314.57" stroke="#505048" stroke-width="0.7"/>
<line x1="225.86" y1="314.44" x2="225.17" y2="321.80" stroke="#1a1a1a" stroke-width="0.85"/>
<line x1="228.10" y1="314.58" x2="227.84" y2="321.97" stroke="#1a1a1a" stroke-width="0.85"/>
<line x1="229.78" y1="314.60" x2="229.85" y2="322.00" stroke="#1a1a1a" stroke-width="0.85"/>
<line x1="231.05" y1="306.96" x2="231.46" y2="314.54" stroke="#505048" stroke-width="0.7"/>
<line x1="230.90" y1="314.57" x2="231.19" y2="321.96" stroke="#1a1a1a" stroke-width="0.85"/>
<line x1="232.02" y1="314.51" x2="232.53" y2="321.89" stroke="#1a1a1a" stroke-width="0.85"/>
<line x1="233.06" y1="306.78" x2="233.97" y2="314.33" stroke="#505048" stroke-width="0.7"/>
<line x1="233.14" y1="314.42" x2="233.86" y2="321.78" stroke="#1a1a1a" stroke-width="0.85"/>
<line x1="234.81" y1="314.22" x2="235.85" y2="321.54" stroke="#1a1a1a" stroke-width="0.85"/>
<line x1="237.42" y1="297.96" x2="240.07" y2="305.08" stroke="#505048" stroke-width="0.7"/>
<line x1="236.38" y1="306.19" x2="238.11" y2="313.59" stroke="#505048" stroke-width="0.7"/>
<line x1="236.47" y1="313.94" x2="237.83" y2="321.21" stroke="#23256e" stroke-width="0.85"/>
<line x1="238.11" y1="313.59" x2="239.80" y2="320.80" stroke="#1a1a1a" stroke-width="0.85"/>
<line x1="239.74" y1="313.17" x2="241.74" y2="320.30" stroke="#1a1a1a" stroke-width="0.85"/>
<line x1="239.93" y1="305.13" x2="242.54" y2="312.27" stroke="#505048" stroke-width="0.7"/>
<line x1="240.81" y1="312.85" x2="243.03" y2="319.92" stroke="#1a1a1a" stroke-width="0.85"/>
<line x1="241.88" y1="312.50" x2="244.30" y2="319.50" stroke="#1a1a1a" stroke-width="0.85"/>
<line x1="242.93" y1="312.12" x2="245.56" y2="319.04" stroke="#1a1a1a" stroke-width="0.85"/>
<line x1="244.49" y1="311.49" x2="247.42" y2="318.29" stroke="#1a1a1a" stroke-width="0.85"/>
<line x1="243.72" y1="303.44" x2="247.27" y2="310.16" stroke="#505048" stroke-width="0.7"/>
<line x1="246.53" y1="310.55" x2="249.84" y2="317.16" stroke="#1a1a1a" stroke-width="0.85"/>
<line x1="248.01" y1="309.76" x2="251.62" y2="316.22" stroke="#1a1a1a" stroke-width="0.85"/>
<line x1="240.87" y1="286.68" x2="246.53" y2="291.75" stroke="#505048" stroke-width="0.7"/>
<line x1="242.35" y1="295.41" x2="246.63" y2="301.69" stroke="#505048" stroke-width="0.7"/>
<line x1="246.63" y1="301.69" x2="250.91" y2="307.97" stroke="#8e1820" stroke-width="0.7"/>
<line x1="250.28" y1="308.39" x2="254.33" y2="314.58" stroke="#8e1820" stroke-width="0.85"/>
<line x1="251.54" y1="307.53" x2="255.83" y2="313.56" stroke="#1a1a1a" stroke-width="0.85"/>
<line x1="245.93" y1="292.39" x2="251.39" y2="297.68" stroke="#505048" stroke-width="0.7"/>
<line x1="249.29" y1="299.65" x2="254.23" y2="305.43" stroke="#505048" stroke-width="0.7"/>
<line x1="253.35" y1="306.16" x2="257.99" y2="311.92" stroke="#1a1a1a" stroke-width="0.85"/>
<line x1="255.08" y1="304.68" x2="260.06" y2="310.15" stroke="#1a1a1a" stroke-width="0.85"/>
<line x1="253.30" y1="295.51" x2="259.24" y2="300.25" stroke="#505048" stroke-width="0.7"/>
<line x1="256.72" y1="303.10" x2="262.02" y2="308.27" stroke="#1a1a1a" stroke-width="0.85"/>
<line x1="258.76" y1="300.84" x2="264.45" y2="305.58" stroke="#1a1a1a" stroke-width="0.85"/>
<line x1="260.16" y1="299.05" x2="266.12" y2="303.43" stroke="#1a1a1a" stroke-width="0.85"/>
<line x1="261.04" y1="297.81" x2="267.17" y2="301.95" stroke="#1a1a1a" stroke-width="0.85"/>
<line x1="250.10" y1="286.42" x2="256.94" y2="289.73" stroke="#505048" stroke-width="0.7"/>
<line x1="256.94" y1="289.73" x2="263.78" y2="293.04" stroke="#505048" stroke-width="0.7"/>
<line x1="261.86" y1="296.53" x2="268.15" y2="300.43" stroke="#1a1a1a" stroke-width="0.85"/>
<line x1="263.01" y1="294.56" x2="269.52" y2="298.08" stroke="#1a1a1a" stroke-width="0.85"/>
<line x1="264.34" y1="291.84" x2="271.11" y2="294.83" stroke="#1a1a1a" stroke-width="0.85"/>
<line x1="265.46" y1="289.01" x2="272.44" y2="291.45" stroke="#1a1a1a" stroke-width="0.85"/>
<line x1="244.78" y1="277.23" x2="252.37" y2="277.63" stroke="#505048" stroke-width="0.7"/>
<line x1="252.09" y1="280.16" x2="259.59" y2="281.40" stroke="#505048" stroke-width="0.7"/>
<line x1="259.59" y1="281.40" x2="267.09" y2="282.64" stroke="#505048" stroke-width="0.7"/>
<line x1="266.81" y1="284.15" x2="274.05" y2="285.65" stroke="#1a1a1a" stroke-width="0.85"/>
<line x1="267.31" y1="281.12" x2="274.65" y2="282.04" stroke="#1a1a1a" stroke-width="0.85"/>
<line x1="252.36" y1="275.10" x2="259.95" y2="274.67" stroke="#505048" stroke-width="0.7"/>
<line x1="260.00" y1="276.51" x2="267.60" y2="276.53" stroke="#505048" stroke-width="0.7"/>
<line x1="267.56" y1="278.07" x2="274.96" y2="278.39" stroke="#1a1a1a" stroke-width="0.85"/>
<line x1="267.57" y1="275.00" x2="274.97" y2="274.73" stroke="#1a1a1a" stroke-width="0.85"/>
<line x1="259.79" y1="272.83" x2="267.34" y2="271.94" stroke="#505048" stroke-width="0.7"/>
<line x1="267.34" y1="271.94" x2="274.69" y2="271.08" stroke="#1a1a1a" stroke-width="0.85"/>
<path d="M250.30 266.79A23.0 23.0 0 0 0 243.73 258.41" fill="none" stroke="#222" stroke-width="0.65"/>
<path d="M258.14 265.88A30.6 30.6 0 0 0 256.09 261.43" fill="none" stroke="#b4452f" stroke-width="1.3"/>
<path d="M266.31 266.55A38.2 38.2 0 0 0 264.22 260.70" fill="none" stroke="#b4452f" stroke-width="1.3"/>
<path d="M273.60 265.20A45.6 45.6 0 0 0 273.31 264.10" fill="none" stroke="#1c1c1c" stroke-width="0.6"/>
<path d="M272.99 263.00A45.6 45.6 0 0 0 272.64 261.91" fill="none" stroke="#1c1c1c" stroke-width="0.6"/>
<path d="M272.26 260.83A45.6 45.6 0 0 0 271.86 259.77" fill="none" stroke="#1c1c1c" stroke-width="0.6"/>
<path d="M263.61 259.40A38.2 38.2 0 0 0 261.74 256.07" fill="none" stroke="#b4452f" stroke-width="1.3"/>
<path d="M270.49 256.62A45.6 45.6 0 0 0 269.98 255.60" fill="none" stroke="#1c1c1c" stroke-width="0.6"/>
<path d="M268.30 252.61A45.6 45.6 0 0 0 267.70 251.65" fill="none" stroke="#1c1c1c" stroke-width="0.6"/>
<path d="M260.68 254.47A38.2 38.2 0 0 0 257.69 250.74" fill="none" stroke="#b4452f" stroke-width="1.3"/>
<path d="M267.06 250.69A45.6 45.6 0 0 0 266.41 249.76" fill="none" stroke="#1c1c1c" stroke-width="0.6"/>
<path d="M263.56 246.19A45.6 45.6 0 0 0 262.79 245.34" fill="none" stroke="#1c1c1c" stroke-width="0.6"/>
<path d="M250.27 254.02A30.6 30.6 0 0 0 246.58 251.08" fill="none" stroke="#b4452f" stroke-width="1.3"/>
<path d="M256.37 249.35A38.2 38.2 0 0 0 254.63 247.72" fill="none" stroke="#b4452f" stroke-width="1.3"/>
<path d="M262.00 244.52A45.6 45.6 0 0 0 261.19 243.71" fill="none" stroke="#1c1c1c" stroke-width="0.6"/>
<path d="M253.90 247.09A38.2 38.2 0 0 0 252.40 245.90" fill="none" stroke="#b4452f" stroke-width="1.3"/>
<path d="M251.63 245.34A38.2 38.2 0 0 0 250.05 244.26" fill="none" stroke="#b4452f" stroke-width="1.3"/>
<path d="M233.62 253.79A23.0 23.0 0 0 0 226.27 253.61" fill="none" stroke="#222" stroke-width="0.65"/>
<path d="M238.31 247.13A30.6 30.6 0 0 0 231.66 245.88" fill="none" stroke="#a0ad45" stroke-width="1.3"/>
<path d="M242.13 240.38A38.2 38.2 0 0 0 238.89 239.40" fill="none" stroke="#a0ad45" stroke-width="1.3"/>
<path d="M245.54 233.75A45.6 45.6 0 0 0 243.64 233.08" fill="none" stroke="#1c1c1c" stroke-width="0.6"/>
<path d="M241.70 232.49A45.6 45.6 0 0 0 239.75 231.99" fill="none" stroke="#1c1c1c" stroke-width="0.6"/>
<path d="M235.58 238.70A38.2 38.2 0 0 0 228.84 238.20" fill="none" stroke="#a0ad45" stroke-width="1.3"/>
<path d="M237.77 231.57A45.6 45.6 0 0 0 235.78 231.25" fill="none" stroke="#1c1c1c" stroke-width="0.6"/>
<path d="M233.77 231.01A45.6 45.6 0 0 0 231.76 230.86" fill="none" stroke="#1c1c1c" stroke-width="0.6"/>
<path d="M229.74 230.80A45.6 45.6 0 0 0 227.72 230.83" fill="none" stroke="#1c1c1c" stroke-width="0.6"/>
<path d="M225.46 238.40A38.2 38.2 0 0 0 222.94 238.75" fill="none" stroke="#a0ad45" stroke-width="1.3"/>
<path d="M225.70 230.95A45.6 45.6 0 0 0 223.69 231.16" fill="none" stroke="#1c1c1c" stroke-width="0.6"/>
<path d="M222.74 254.39A23.0 23.0 0 0 0 218.54 256.12" fill="none" stroke="#222" stroke-width="0.65"/>
<path d="M215.45 258.11A23.0 23.0 0 0 0 213.14 260.14" fill="none" stroke="#222" stroke-width="0.65"/>
<path d="M208.04 244.73A38.2 38.2 0 0 0 204.34 247.57" fill="none" stroke="#a0ad45" stroke-width="1.3"/>
<path d="M202.60 239.51A45.6 45.6 0 0 0 201.33 240.47" fill="none" stroke="#1c1c1c" stroke-width="0.6"/>
<path d="M200.09 241.47A45.6 45.6 0 0 0 198.89 242.51" fill="none" stroke="#1c1c1c" stroke-width="0.6"/>
<path d="M197.72 243.60A45.6 45.6 0 0 0 196.60 244.72" fill="none" stroke="#1c1c1c" stroke-width="0.6"/>
<path d="M200.05 251.95A38.2 38.2 0 0 0 198.42 254.05" fill="none" stroke="#b4452f" stroke-width="1.3"/>
<path d="M194.78 246.72A45.6 45.6 0 0 0 193.96 247.70" fill="none" stroke="#1c1c1c" stroke-width="0.6"/>
<path d="M196.89 256.35A38.2 38.2 0 0 0 195.96 257.93" fill="none" stroke="#a0ad45" stroke-width="1.3"/>
<path d="M190.98 251.84A45.6 45.6 0 0 0 190.21 253.09" fill="none" stroke="#1c1c1c" stroke-width="0.6"/>
<path d="M195.09 259.60A38.2 38.2 0 0 0 194.09 261.83" fill="none" stroke="#a0ad45" stroke-width="1.3"/>
<path d="M193.50 263.33A38.2 38.2 0 0 0 193.28 263.96" fill="none" stroke="#a0ad45" stroke-width="1.3"/>
<path d="M206.99 271.23A23.0 23.0 0 0 0 206.43 275.25" fill="none" stroke="#222" stroke-width="0.65"/>
<path d="M192.82 265.39A38.2 38.2 0 0 0 191.70 270.26" fill="none" stroke="#b4452f" stroke-width="1.3"/>
<path d="M185.41 264.41A45.6 45.6 0 0 0 185.11 265.56" fill="none" stroke="#1c1c1c" stroke-width="0.6"/>
<path d="M184.84 266.72A45.6 45.6 0 0 0 184.60 267.89" fill="none" stroke="#1c1c1c" stroke-width="0.6"/>
<path d="M198.94 273.47A30.6 30.6 0 0 0 198.80 276.27" fill="none" stroke="#b4452f" stroke-width="1.3"/>
<path d="M191.48 271.74A38.2 38.2 0 0 0 191.29 273.74" fill="none" stroke="#b4452f" stroke-width="1.3"/>
<path d="M184.22 270.25A45.6 45.6 0 0 0 184.07 271.44" fill="none" stroke="#1c1c1c" stroke-width="0.6"/>
<path d="M183.96 272.62A45.6 45.6 0 0 0 183.87 273.81" fill="none" stroke="#1c1c1c" stroke-width="0.6"/>
<path d="M191.22 275.23A38.2 38.2 0 0 0 191.21 277.23" fill="none" stroke="#b4452f" stroke-width="1.3"/>
<path d="M206.80 280.65A23.0 23.0 0 0 0 207.68 283.96" fill="none" stroke="#222" stroke-width="0.65"/>
<path d="M199.08 280.55A30.6 30.6 0 0 0 199.65 283.54" fill="none" stroke="#a0ad45" stroke-width="1.3"/>
<path d="M191.40 280.33A38.2 38.2 0 0 0 191.75 282.84" fill="none" stroke="#a0ad45" stroke-width="1.3"/>
<path d="M192.93 287.76A38.2 38.2 0 0 0 193.76 290.15" fill="none" stroke="#a0ad45" stroke-width="1.3"/>
<path d="M209.44 287.83A23.0 23.0 0 0 0 222.60 298.37" fill="none" stroke="#222" stroke-width="0.65"/>
<path d="M202.23 290.48A30.6 30.6 0 0 0 203.51 292.71" fill="none" stroke="#a0ad45" stroke-width="1.3"/>
<path d="M195.01 293.03A38.2 38.2 0 0 0 195.99 294.92" fill="none" stroke="#a0ad45" stroke-width="1.3"/>
<path d="M196.52 295.85A38.2 38.2 0 0 0 197.66 297.65" fill="none" stroke="#a0ad45" stroke-width="1.3"/>
<path d="M205.75 295.82A30.6 30.6 0 0 0 210.55 300.50" fill="none" stroke="#a0ad45" stroke-width="1.3"/>
<path d="M198.57 298.96A38.2 38.2 0 0 0 201.28 302.26" fill="none" stroke="#a0ad45" stroke-width="1.3"/>
<path d="M192.23 302.82A45.6 45.6 0 0 0 192.98 303.84" fill="none" stroke="#1c1c1c" stroke-width="0.6"/>
<path d="M193.76 304.85A45.6 45.6 0 0 0 194.57 305.83" fill="none" stroke="#1c1c1c" stroke-width="0.6"/>
<path d="M195.41 306.79A45.6 45.6 0 0 0 196.27 307.73" fill="none" stroke="#1c1c1c" stroke-width="0.6"/>
<path d="M202.39 303.41A38.2 38.2 0 0 0 209.50 309.01" fill="none" stroke="#a0ad45" stroke-width="1.3"/>
<path d="M198.07 309.53A45.6 45.6 0 0 0 199.01 310.39" fill="none" stroke="#1c1c1c" stroke-width="0.6"/>
<path d="M200.95 312.04A45.6 45.6 0 0 0 201.96 312.82" fill="none" stroke="#1c1c1c" stroke-width="0.6"/>
<path d="M205.10 314.99A45.6 45.6 0 0 0 206.19 315.65" fill="none" stroke="#1c1c1c" stroke-width="0.6"/>
<path d="M216.08 303.95A30.6 30.6 0 0 0 224.19 306.55" fill="none" stroke="#a0ad45" stroke-width="1.3"/>
<path d="M210.88 309.81A38.2 38.2 0 0 0 214.72 311.67" fill="none" stroke="#a0ad45" stroke-width="1.3"/>
<path d="M216.21 312.25A38.2 38.2 0 0 0 221.33 313.74" fill="none" stroke="#a0ad45" stroke-width="1.3"/>
<path d="M213.06 318.97A45.6 45.6 0 0 0 214.25 319.41" fill="none" stroke="#1c1c1c" stroke-width="0.6"/>
<path d="M215.46 319.82A45.6 45.6 0 0 0 216.68 320.19" fill="none" stroke="#1c1c1c" stroke-width="0.6"/>
<path d="M219.14 320.83A45.6 45.6 0 0 0 220.39 321.10" fill="none" stroke="#1c1c1c" stroke-width="0.6"/>
<path d="M230.43 299.38A23.0 23.0 0 0 0 237.42 297.96" fill="none" stroke="#222" stroke-width="0.65"/>
<path d="M228.21 306.98A30.6 30.6 0 0 0 233.06 306.78" fill="none" stroke="#a0ad45" stroke-width="1.3"/>
<path d="M225.86 314.44A38.2 38.2 0 0 0 229.78 314.60" fill="none" stroke="#a0ad45" stroke-width="1.3"/>
<path d="M224.51 321.74A45.6 45.6 0 0 0 225.84 321.86" fill="none" stroke="#1c1c1c" stroke-width="0.6"/>
<path d="M227.18 321.95A45.6 45.6 0 0 0 228.51 321.99" fill="none" stroke="#1c1c1c" stroke-width="0.6"/>
<path d="M230.90 314.57A38.2 38.2 0 0 0 232.02 314.51" fill="none" stroke="#a0ad45" stroke-width="1.3"/>
<path d="M233.14 314.42A38.2 38.2 0 0 0 234.81 314.22" fill="none" stroke="#a0ad45" stroke-width="1.3"/>
<path d="M235.19 321.63A45.6 45.6 0 0 0 236.52 321.44" fill="none" stroke="#1c1c1c" stroke-width="0.6"/>
<path d="M236.38 306.19A30.6 30.6 0 0 0 243.72 303.44" fill="none" stroke="#a0ad45" stroke-width="1.3"/>
<path d="M236.47 313.94A38.2 38.2 0 0 0 239.74 313.17" fill="none" stroke="#a0ad45" stroke-width="1.3"/>
<path d="M239.15 320.95A45.6 45.6 0 0 0 240.45 320.64" fill="none" stroke="#1c1c1c" stroke-width="0.6"/>
<path d="M240.81 312.85A38.2 38.2 0 0 0 244.49 311.49" fill="none" stroke="#a0ad45" stroke-width="1.3"/>
<path d="M246.80 318.55A45.6 45.6 0 0 0 248.03 318.02" fill="none" stroke="#1c1c1c" stroke-width="0.6"/>
<path d="M246.53 310.55A38.2 38.2 0 0 0 248.01 309.76" fill="none" stroke="#a0ad45" stroke-width="1.3"/>
<path d="M249.24 317.46A45.6 45.6 0 0 0 250.44 316.86" fill="none" stroke="#1c1c1c" stroke-width="0.6"/>
<path d="M242.35 295.41A23.0 23.0 0 0 0 250.10 286.42" fill="none" stroke="#222" stroke-width="0.65"/>
<path d="M250.28 308.39A38.2 38.2 0 0 0 251.54 307.53" fill="none" stroke="#a0ad45" stroke-width="1.3"/>
<path d="M249.29 299.65A30.6 30.6 0 0 0 253.30 295.51" fill="none" stroke="#a0ad45" stroke-width="1.3"/>
<path d="M253.35 306.16A38.2 38.2 0 0 0 255.08 304.68" fill="none" stroke="#a0ad45" stroke-width="1.3"/>
<path d="M257.28 312.48A45.6 45.6 0 0 0 258.69 311.35" fill="none" stroke="#1c1c1c" stroke-width="0.6"/>
<path d="M256.72 303.10A38.2 38.2 0 0 0 261.04 297.81" fill="none" stroke="#a0ad45" stroke-width="1.3"/>
<path d="M261.38 308.91A45.6 45.6 0 0 0 262.64 307.61" fill="none" stroke="#1c1c1c" stroke-width="0.6"/>
<path d="M263.86 306.27A45.6 45.6 0 0 0 265.02 304.87" fill="none" stroke="#1c1c1c" stroke-width="0.6"/>
<path d="M261.86 296.53A38.2 38.2 0 0 0 265.46 289.01" fill="none" stroke="#a0ad45" stroke-width="1.3"/>
<path d="M269.08 298.87A45.6 45.6 0 0 0 269.94 297.28" fill="none" stroke="#1c1c1c" stroke-width="0.6"/>
<path d="M270.74 295.65A45.6 45.6 0 0 0 271.47 293.99" fill="none" stroke="#1c1c1c" stroke-width="0.6"/>
<path d="M272.14 292.31A45.6 45.6 0 0 0 272.73 290.60" fill="none" stroke="#1c1c1c" stroke-width="0.6"/>
<path d="M252.09 280.16A23.0 23.0 0 0 0 252.36 275.10" fill="none" stroke="#222" stroke-width="0.65"/>
<path d="M266.81 284.15A38.2 38.2 0 0 0 267.31 281.12" fill="none" stroke="#a0ad45" stroke-width="1.3"/>
<path d="M260.00 276.51A30.6 30.6 0 0 0 259.79 272.83" fill="none" stroke="#a0ad45" stroke-width="1.3"/>
<path d="M267.56 278.07A38.2 38.2 0 0 0 267.57 275.00" fill="none" stroke="#a0ad45" stroke-width="1.3"/>
<circle cx="229.4" cy="276.4" r="15.4" fill="none" stroke="#1e1e1e" stroke-width="0.8"/>
<circle cx="273.60" cy="265.20" r="0.75" fill="#a6bb3e"/>
<circle cx="273.31" cy="264.10" r="0.75" fill="#a6bb3e"/>
<circle cx="266.31" cy="266.55" r="1.05" fill="#a6bb3e"/>
<circle cx="272.99" cy="263.00" r="0.75" fill="#a6bb3e"/>
<circle cx="272.64" cy="261.91" r="0.75" fill="#a6bb3e"/>
<circle cx="265.77" cy="264.72" r="1.05" fill="#a6bb3e"/>
<circle cx="272.26" cy="260.83" r="0.75" fill="#a6bb3e"/>
<circle cx="271.86" cy="259.77" r="0.75" fill="#a6bb3e"/>
<circle cx="265.14" cy="262.91" r="1.05" fill="#c8202c"/>
<circle cx="271.43" cy="258.71" r="0.75" fill="#a6bb3e"/>
<circle cx="264.61" cy="261.58" r="1.05" fill="#a6bb3e"/>
<circle cx="270.97" cy="257.66" r="0.75" fill="#a6bb3e"/>
<circle cx="264.22" cy="260.70" r="1.05" fill="#c8202c"/>
<circle cx="258.14" cy="265.88" r="1.2" fill="#c8202c"/>
<circle cx="270.49" cy="256.62" r="0.75" fill="#a6bb3e"/>
<circle cx="269.98" cy="255.60" r="0.75" fill="#a6bb3e"/>
<circle cx="263.61" cy="259.40" r="1.05" fill="#c8202c"/>
<circle cx="269.45" cy="254.59" r="0.75" fill="#c8202c"/>
<circle cx="262.95" cy="258.13" r="1.05" fill="#c8202c"/>
<circle cx="268.89" cy="253.59" r="0.75" fill="#a6bb3e"/>
<circle cx="262.48" cy="257.30" r="1.05" fill="#c8202c"/>
<circle cx="268.30" cy="252.61" r="0.75" fill="#c8202c"/>
<circle cx="267.70" cy="251.65" r="0.75" fill="#a6bb3e"/>
<circle cx="261.74" cy="256.07" r="1.05" fill="#a6bb3e"/>
<circle cx="256.09" cy="261.43" r="1.2" fill="#c8202c"/>
<circle cx="250.30" cy="266.79" r="1.35" fill="#c8202c"/>
<circle cx="267.06" cy="250.69" r="0.75" fill="#a6bb3e"/>
<circle cx="266.41" cy="249.76" r="0.75" fill="#c8202c"/>
<circle cx="260.68" cy="254.47" r="1.05" fill="#c8202c"/>
<circle cx="265.73" cy="248.84" r="0.75" fill="#a6bb3e"/>
<circle cx="259.83" cy="253.31" r="1.05" fill="#c8202c"/>
<circle cx="265.03" cy="247.94" r="0.75" fill="#c8202c"/>
<circle cx="259.25" cy="252.56" r="1.05" fill="#c8202c"/>
<circle cx="264.30" cy="247.05" r="0.75" fill="#a6bb3e"/>
<circle cx="258.64" cy="251.82" r="1.05" fill="#a6bb3e"/>
<circle cx="263.56" cy="246.19" r="0.75" fill="#a6bb3e"/>
<circle cx="262.79" cy="245.34" r="0.75" fill="#a6bb3e"/>
<circle cx="257.69" cy="250.74" r="1.05" fill="#c8202c"/>
<circle cx="253.31" cy="257.30" r="1.2" fill="#c8202c"/>
<circle cx="247.37" cy="262.04" r="1.35" fill="#c8202c"/>
<circle cx="262.00" cy="244.52" r="0.75" fill="#c8202c"/>
<circle cx="261.19" cy="243.71" r="0.75" fill="#a6bb3e"/>
<circle cx="256.37" cy="249.35" r="1.05" fill="#a6bb3e"/>
<circle cx="260.36" cy="242.92" r="0.75" fill="#a6bb3e"/>
<circle cx="255.34" cy="248.36" r="1.05" fill="#a6bb3e"/>
<circle cx="259.51" cy="242.16" r="0.75" fill="#c8202c"/>
<circle cx="254.63" cy="247.72" r="1.05" fill="#a6bb3e"/>
<circle cx="250.27" cy="254.02" r="1.2" fill="#c8202c"/>
<circle cx="258.65" cy="241.41" r="0.75" fill="#c8202c"/>
<circle cx="253.90" cy="247.09" r="1.05" fill="#a6bb3e"/>
<circle cx="257.76" cy="240.69" r="0.75" fill="#c8202c"/>
<circle cx="253.16" cy="246.49" r="1.05" fill="#c8202c"/>
<circle cx="256.86" cy="239.99" r="0.75" fill="#a6bb3e"/>
<circle cx="252.40" cy="245.90" r="1.05" fill="#c8202c"/>
<circle cx="248.43" cy="252.44" r="1.2" fill="#c8202c"/>
<circle cx="255.94" cy="239.32" r="0.75" fill="#a6bb3e"/>
<circle cx="251.63" cy="245.34" r="1.05" fill="#c8202c"/>
<circle cx="255.00" cy="238.66" r="0.75" fill="#c8202c"/>
<circle cx="250.85" cy="244.79" r="1.05" fill="#c8202c"/>
<circle cx="254.05" cy="238.03" r="0.75" fill="#a6bb3e"/>
<circle cx="250.05" cy="244.26" r="1.05" fill="#a6bb3e"/>
<circle cx="246.58" cy="251.08" r="1.2" fill="#c8202c"/>
<circle cx="243.73" cy="258.41" r="1.35" fill="#c8202c"/>
<circle cx="241.49" cy="266.86" r="1.45" fill="#c8202c"/>
<circle cx="245.54" cy="233.75" r="1.0" fill="#a6bb3e"/>
<circle cx="243.64" cy="233.08" r="1.0" fill="#a6bb3e"/>
<circle cx="242.13" cy="240.38" r="1.05" fill="#a6bb3e"/>
<circle cx="241.70" cy="232.49" r="1.0" fill="#a6bb3e"/>
<circle cx="239.75" cy="231.99" r="1.0" fill="#a6bb3e"/>
<circle cx="238.89" cy="239.40" r="1.05" fill="#a6bb3e"/>
<circle cx="238.31" cy="247.13" r="1.2" fill="#a6bb3e"/>
<circle cx="237.77" cy="231.57" r="1.0" fill="#a6bb3e"/>
<circle cx="235.78" cy="231.25" r="1.0" fill="#a6bb3e"/>
<circle cx="235.58" cy="238.70" r="1.05" fill="#a6bb3e"/>
<circle cx="233.77" cy="231.01" r="1.0" fill="#a6bb3e"/>
<circle cx="231.76" cy="230.86" r="1.0" fill="#a6bb3e"/>
<circle cx="232.22" cy="238.30" r="1.05" fill="#a6bb3e"/>
<circle cx="229.74" cy="230.80" r="1.0" fill="#a6bb3e"/>
<circle cx="227.72" cy="230.83" r="1.0" fill="#a6bb3e"/>
<circle cx="228.84" cy="238.20" r="1.05" fill="#a6bb3e"/>
<circle cx="231.66" cy="245.88" r="1.2" fill="#a6bb3e"/>
<circle cx="233.62" cy="253.79" r="1.35" fill="#a6bb3e"/>
<circle cx="225.70" cy="230.95" r="1.0" fill="#a6bb3e"/>
<circle cx="223.69" cy="231.16" r="1.0" fill="#a6bb3e"/>
<circle cx="225.46" cy="238.40" r="1.05" fill="#a6bb3e"/>
<circle cx="221.69" cy="231.46" r="1.0" fill="#a6bb3e"/>
<circle cx="222.94" cy="238.75" r="1.05" fill="#a6bb3e"/>
<circle cx="225.23" cy="246.09" r="1.2" fill="#a6bb3e"/>
<circle cx="226.27" cy="253.61" r="1.35" fill="#a6bb3e"/>
<circle cx="229.77" cy="261.00" r="1.45" fill="#c8202c"/>
<circle cx="216.19" cy="232.75" r="0.95" fill="#a6bb3e"/>
<circle cx="218.34" cy="239.84" r="1.05" fill="#a6bb3e"/>
<circle cx="220.54" cy="247.11" r="1.2" fill="#a6bb3e"/>
<circle cx="222.74" cy="254.39" r="1.35" fill="#a6bb3e"/>
<circle cx="211.95" cy="234.27" r="0.95" fill="#a6bb3e"/>
<circle cx="214.78" cy="241.11" r="1.05" fill="#a6bb3e"/>
<circle cx="217.69" cy="248.13" r="1.2" fill="#a6bb3e"/>
<circle cx="220.60" cy="255.15" r="1.35" fill="#a6bb3e"/>
<circle cx="207.88" cy="236.20" r="0.95" fill="#a6bb3e"/>
<circle cx="211.37" cy="242.72" r="1.05" fill="#a6bb3e"/>
<circle cx="214.96" cy="249.42" r="1.2" fill="#a6bb3e"/>
<circle cx="218.54" cy="256.12" r="1.35" fill="#a6bb3e"/>
<circle cx="223.51" cy="262.17" r="1.45" fill="#a6bb3e"/>
<circle cx="203.90" cy="238.60" r="0.9" fill="#a6bb3e"/>
<circle cx="208.04" cy="244.73" r="1.05" fill="#a6bb3e"/>
<circle cx="202.60" cy="239.51" r="0.9" fill="#a6bb3e"/>
<circle cx="201.33" cy="240.47" r="0.9" fill="#a6bb3e"/>
<circle cx="206.41" cy="245.89" r="1.05" fill="#a6bb3e"/>
<circle cx="200.09" cy="241.47" r="0.9" fill="#a6bb3e"/>
<circle cx="198.89" cy="242.51" r="0.9" fill="#a6bb3e"/>
<circle cx="204.34" cy="247.57" r="1.05" fill="#a6bb3e"/>
<circle cx="210.84" cy="252.07" r="1.2" fill="#a6bb3e"/>
<circle cx="215.45" cy="258.11" r="1.35" fill="#a6bb3e"/>
<circle cx="197.72" cy="243.60" r="0.9" fill="#a6bb3e"/>
<circle cx="196.60" cy="244.72" r="0.9" fill="#a6bb3e"/>
<circle cx="202.39" cy="249.39" r="1.05" fill="#a6bb3e"/>
<circle cx="207.76" cy="254.76" r="1.2" fill="#a6bb3e"/>
<circle cx="213.14" cy="260.14" r="1.35" fill="#a6bb3e"/>
<circle cx="219.26" cy="264.81" r="1.45" fill="#a6bb3e"/>
<circle cx="194.78" cy="246.72" r="0.9" fill="#a6bb3e"/>
<circle cx="193.96" cy="247.70" r="0.9" fill="#a6bb3e"/>
<circle cx="200.05" cy="251.95" r="1.05" fill="#c8202c"/>
<circle cx="193.17" cy="248.70" r="0.9" fill="#a6bb3e"/>
<circle cx="199.05" cy="253.20" r="1.05" fill="#c8202c"/>
<circle cx="192.42" cy="249.73" r="0.9" fill="#a6bb3e"/>
<circle cx="198.42" cy="254.05" r="1.05" fill="#c8202c"/>
<circle cx="205.18" cy="257.70" r="1.2" fill="#c8202c"/>
<circle cx="211.19" cy="262.35" r="1.35" fill="#c8202c"/>
<circle cx="217.21" cy="266.99" r="1.45" fill="#c8202c"/>
<circle cx="190.98" cy="251.84" r="0.9" fill="#a6bb3e"/>
<circle cx="190.21" cy="253.09" r="0.9" fill="#a6bb3e"/>
<circle cx="196.89" cy="256.35" r="1.05" fill="#a6bb3e"/>
<circle cx="189.49" cy="254.35" r="0.9" fill="#a6bb3e"/>
<circle cx="195.96" cy="257.93" r="1.05" fill="#a6bb3e"/>
<circle cx="202.98" cy="260.97" r="1.2" fill="#a6bb3e"/>
<circle cx="209.54" cy="264.80" r="1.35" fill="#a6bb3e"/>
<circle cx="216.10" cy="268.63" r="1.45" fill="#a6bb3e"/>
<circle cx="188.44" cy="256.35" r="0.9" fill="#2e3192"/>
<circle cx="195.09" cy="259.60" r="1.05" fill="#2e3192"/>
<circle cx="187.82" cy="257.67" r="0.9" fill="#2e3192"/>
<circle cx="194.57" cy="260.71" r="1.05" fill="#2e3192"/>
<circle cx="187.25" cy="259.01" r="0.9" fill="#2e3192"/>
<circle cx="194.09" cy="261.83" r="1.05" fill="#2e3192"/>
<circle cx="201.50" cy="263.83" r="1.2" fill="#2e3192"/>
<circle cx="208.43" cy="266.95" r="1.35" fill="#a6bb3e"/>
<circle cx="215.36" cy="270.07" r="1.45" fill="#a6bb3e"/>
<circle cx="186.55" cy="260.80" r="0.9" fill="#a6bb3e"/>
<circle cx="193.50" cy="263.33" r="1.05" fill="#a6bb3e"/>
<circle cx="186.28" cy="261.55" r="0.9" fill="#a6bb3e"/>
<circle cx="193.28" cy="263.96" r="1.05" fill="#a6bb3e"/>
<circle cx="200.56" cy="266.19" r="1.2" fill="#a6bb3e"/>
<circle cx="207.72" cy="268.72" r="1.35" fill="#a6bb3e"/>
<circle cx="214.88" cy="271.26" r="1.45" fill="#a6bb3e"/>
<circle cx="185.73" cy="263.26" r="0.8" fill="#c8202c"/>
<circle cx="192.82" cy="265.39" r="1.05" fill="#a6bb3e"/>
<circle cx="185.41" cy="264.41" r="0.8" fill="#a6bb3e"/>
<circle cx="185.11" cy="265.56" r="0.8" fill="#a6bb3e"/>
<circle cx="192.42" cy="266.84" r="1.05" fill="#a6bb3e"/>
<circle cx="184.84" cy="266.72" r="0.8" fill="#c8202c"/>
<circle cx="184.60" cy="267.89" r="0.8" fill="#c8202c"/>
<circle cx="191.97" cy="268.78" r="1.05" fill="#c8202c"/>
<circle cx="184.39" cy="269.07" r="0.8" fill="#c8202c"/>
<circle cx="191.70" cy="270.26" r="1.05" fill="#a6bb3e"/>
<circle cx="199.58" cy="269.52" r="1.2" fill="#c8202c"/>
<circle cx="206.99" cy="271.23" r="1.35" fill="#c8202c"/>
<circle cx="184.22" cy="270.25" r="0.8" fill="#a6bb3e"/>
<circle cx="184.07" cy="271.44" r="0.8" fill="#a6bb3e"/>
<circle cx="191.48" cy="271.74" r="1.05" fill="#a6bb3e"/>
<circle cx="183.96" cy="272.62" r="0.8" fill="#a6bb3e"/>
<circle cx="183.87" cy="273.81" r="0.8" fill="#a6bb3e"/>
<circle cx="191.29" cy="273.74" r="1.05" fill="#c8202c"/>
<circle cx="198.94" cy="273.47" r="1.2" fill="#c8202c"/>
<circle cx="183.82" cy="275.01" r="0.8" fill="#c8202c"/>
<circle cx="191.22" cy="275.23" r="1.05" fill="#a6bb3e"/>
<circle cx="183.80" cy="276.20" r="0.8" fill="#a6bb3e"/>
<circle cx="191.20" cy="276.23" r="1.05" fill="#a6bb3e"/>
<circle cx="183.81" cy="277.39" r="0.8" fill="#c8202c"/>
<circle cx="191.21" cy="277.23" r="1.05" fill="#a6bb3e"/>
<circle cx="198.80" cy="276.27" r="1.2" fill="#c8202c"/>
<circle cx="206.43" cy="275.25" r="1.35" fill="#c8202c"/>
<circle cx="214.15" cy="274.27" r="1.45" fill="#c8202c"/>
<circle cx="184.04" cy="281.09" r="0.95" fill="#a6bb3e"/>
<circle cx="191.40" cy="280.33" r="1.05" fill="#a6bb3e"/>
<circle cx="184.45" cy="284.08" r="0.95" fill="#a6bb3e"/>
<circle cx="191.75" cy="282.84" r="1.05" fill="#a6bb3e"/>
<circle cx="199.08" cy="280.55" r="1.2" fill="#a6bb3e"/>
<circle cx="185.06" cy="287.05" r="0.95" fill="#a6bb3e"/>
<circle cx="192.26" cy="285.32" r="1.05" fill="#a6bb3e"/>
<circle cx="199.65" cy="283.54" r="1.2" fill="#a6bb3e"/>
<circle cx="206.80" cy="280.65" r="1.35" fill="#a6bb3e"/>
<circle cx="185.86" cy="289.96" r="0.95" fill="#a6bb3e"/>
<circle cx="192.93" cy="287.76" r="1.05" fill="#a6bb3e"/>
<circle cx="186.86" cy="292.82" r="0.95" fill="#a6bb3e"/>
<circle cx="193.76" cy="290.15" r="1.05" fill="#a6bb3e"/>
<circle cx="200.50" cy="286.46" r="1.2" fill="#a6bb3e"/>
<circle cx="207.68" cy="283.96" r="1.35" fill="#a6bb3e"/>
<circle cx="214.52" cy="280.37" r="1.45" fill="#a6bb3e"/>
<circle cx="188.35" cy="296.25" r="0.6" fill="#a6bb3e"/>
<circle cx="195.01" cy="293.03" r="1.05" fill="#a6bb3e"/>
<circle cx="188.92" cy="297.39" r="0.6" fill="#a6bb3e"/>
<circle cx="195.49" cy="293.98" r="1.05" fill="#a6bb3e"/>
<circle cx="189.52" cy="298.51" r="0.6" fill="#a6bb3e"/>
<circle cx="195.99" cy="294.92" r="1.05" fill="#a6bb3e"/>
<circle cx="202.23" cy="290.48" r="1.2" fill="#a6bb3e"/>
<circle cx="190.15" cy="299.61" r="0.6" fill="#a6bb3e"/>
<circle cx="196.52" cy="295.85" r="1.05" fill="#a6bb3e"/>
<circle cx="190.81" cy="300.70" r="0.6" fill="#a6bb3e"/>
<circle cx="197.08" cy="296.76" r="1.05" fill="#a6bb3e"/>
<circle cx="191.51" cy="301.77" r="0.6" fill="#a6bb3e"/>
<circle cx="197.66" cy="297.65" r="1.05" fill="#a6bb3e"/>
<circle cx="203.51" cy="292.71" r="1.2" fill="#a6bb3e"/>
<circle cx="209.44" cy="287.83" r="1.35" fill="#a6bb3e"/>
<circle cx="192.23" cy="302.82" r="0.6" fill="#a6bb3e"/>
<circle cx="192.98" cy="303.84" r="0.6" fill="#a6bb3e"/>
<circle cx="198.57" cy="298.96" r="1.05" fill="#a6bb3e"/>
<circle cx="193.76" cy="304.85" r="0.6" fill="#a6bb3e"/>
<circle cx="194.57" cy="305.83" r="0.6" fill="#a6bb3e"/>
<circle cx="199.88" cy="300.65" r="1.05" fill="#a6bb3e"/>
<circle cx="195.41" cy="306.79" r="0.6" fill="#a6bb3e"/>
<circle cx="196.27" cy="307.73" r="0.6" fill="#a6bb3e"/>
<circle cx="201.28" cy="302.26" r="1.05" fill="#a6bb3e"/>
<circle cx="205.75" cy="295.82" r="1.2" fill="#a6bb3e"/>
<circle cx="197.16" cy="308.64" r="0.6" fill="#a6bb3e"/>
<circle cx="202.39" cy="303.41" r="1.05" fill="#a6bb3e"/>
<circle cx="198.07" cy="309.53" r="0.6" fill="#a6bb3e"/>
<circle cx="199.01" cy="310.39" r="0.6" fill="#a6bb3e"/>
<circle cx="203.54" cy="304.52" r="1.05" fill="#a6bb3e"/>
<circle cx="199.97" cy="311.23" r="0.6" fill="#a6bb3e"/>
<circle cx="204.74" cy="305.58" r="1.05" fill="#a6bb3e"/>
<circle cx="200.95" cy="312.04" r="0.6" fill="#a6bb3e"/>
<circle cx="201.96" cy="312.82" r="0.6" fill="#a6bb3e"/>
<circle cx="205.99" cy="306.58" r="1.05" fill="#a6bb3e"/>
<circle cx="202.98" cy="313.57" r="0.6" fill="#a6bb3e"/>
<circle cx="207.27" cy="307.54" r="1.05" fill="#a6bb3e"/>
<circle cx="204.03" cy="314.29" r="0.6" fill="#a6bb3e"/>
<circle cx="208.15" cy="308.14" r="1.05" fill="#a6bb3e"/>
<circle cx="205.10" cy="314.99" r="0.6" fill="#a6bb3e"/>
<circle cx="206.19" cy="315.65" r="0.6" fill="#a6bb3e"/>
<circle cx="209.50" cy="309.01" r="1.05" fill="#a6bb3e"/>
<circle cx="210.55" cy="300.50" r="1.2" fill="#a6bb3e"/>
<circle cx="213.33" cy="292.86" r="1.35" fill="#a6bb3e"/>
<circle cx="207.29" cy="316.28" r="0.6" fill="#a6bb3e"/>
<circle cx="210.88" cy="309.81" r="1.05" fill="#a6bb3e"/>
<circle cx="208.41" cy="316.88" r="0.6" fill="#a6bb3e"/>
<circle cx="211.82" cy="310.31" r="1.05" fill="#a6bb3e"/>
<circle cx="209.55" cy="317.45" r="0.6" fill="#a6bb3e"/>
<circle cx="212.77" cy="310.79" r="1.05" fill="#a6bb3e"/>
<circle cx="210.71" cy="317.99" r="0.6" fill="#a6bb3e"/>
<circle cx="213.74" cy="311.24" r="1.05" fill="#a6bb3e"/>
<circle cx="211.88" cy="318.50" r="0.6" fill="#a6bb3e"/>
<circle cx="214.72" cy="311.67" r="1.05" fill="#a6bb3e"/>
<circle cx="216.08" cy="303.95" r="1.2" fill="#a6bb3e"/>
<circle cx="213.06" cy="318.97" r="0.6" fill="#a6bb3e"/>
<circle cx="214.25" cy="319.41" r="0.6" fill="#a6bb3e"/>
<circle cx="216.21" cy="312.25" r="1.05" fill="#a6bb3e"/>
<circle cx="215.46" cy="319.82" r="0.6" fill="#a6bb3e"/>
<circle cx="216.68" cy="320.19" r="0.6" fill="#a6bb3e"/>
<circle cx="218.23" cy="312.93" r="1.05" fill="#a6bb3e"/>
<circle cx="217.91" cy="320.53" r="0.6" fill="#a6bb3e"/>
<circle cx="219.77" cy="313.37" r="1.05" fill="#a6bb3e"/>
<circle cx="219.14" cy="320.83" r="0.6" fill="#a6bb3e"/>
<circle cx="220.39" cy="321.10" r="0.6" fill="#a6bb3e"/>
<circle cx="221.33" cy="313.74" r="1.05" fill="#a6bb3e"/>
<circle cx="220.97" cy="305.81" r="1.2" fill="#a6bb3e"/>
<circle cx="221.64" cy="321.33" r="0.6" fill="#a6bb3e"/>
<circle cx="222.90" cy="314.04" r="1.05" fill="#a6bb3e"/>
<circle cx="224.19" cy="306.55" r="1.2" fill="#a6bb3e"/>
<circle cx="222.60" cy="298.37" r="1.35" fill="#a6bb3e"/>
<circle cx="219.38" cy="288.10" r="1.45" fill="#a6bb3e"/>
<circle cx="224.51" cy="321.74" r="0.65" fill="#a6bb3e"/>
<circle cx="225.84" cy="321.86" r="0.65" fill="#a6bb3e"/>
<circle cx="225.86" cy="314.44" r="1.05" fill="#a6bb3e"/>
<circle cx="227.18" cy="321.95" r="0.65" fill="#a6bb3e"/>
<circle cx="228.51" cy="321.99" r="0.65" fill="#a6bb3e"/>
<circle cx="228.10" cy="314.58" r="1.05" fill="#a6bb3e"/>
<circle cx="229.85" cy="322.00" r="0.65" fill="#a6bb3e"/>
<circle cx="229.78" cy="314.60" r="1.05" fill="#a6bb3e"/>
<circle cx="228.21" cy="306.98" r="1.2" fill="#a6bb3e"/>
<circle cx="231.19" cy="321.96" r="0.65" fill="#a6bb3e"/>
<circle cx="230.90" cy="314.57" r="1.05" fill="#a6bb3e"/>
<circle cx="232.53" cy="321.89" r="0.65" fill="#a6bb3e"/>
<circle cx="232.02" cy="314.51" r="1.05" fill="#a6bb3e"/>
<circle cx="231.05" cy="306.96" r="1.2" fill="#a6bb3e"/>
<circle cx="233.86" cy="321.78" r="0.65" fill="#a6bb3e"/>
<circle cx="233.14" cy="314.42" r="1.05" fill="#a6bb3e"/>
<circle cx="235.19" cy="321.63" r="0.65" fill="#a6bb3e"/>
<circle cx="236.52" cy="321.44" r="0.65" fill="#a6bb3e"/>
<circle cx="234.81" cy="314.22" r="1.05" fill="#a6bb3e"/>
<circle cx="233.06" cy="306.78" r="1.2" fill="#a6bb3e"/>
<circle cx="230.43" cy="299.38" r="1.35" fill="#a6bb3e"/>
<circle cx="237.83" cy="321.21" r="0.65" fill="#2e3192"/>
<circle cx="236.47" cy="313.94" r="1.05" fill="#2e3192"/>
<circle cx="239.15" cy="320.95" r="0.65" fill="#a6bb3e"/>
<circle cx="240.45" cy="320.64" r="0.65" fill="#a6bb3e"/>
<circle cx="238.11" cy="313.59" r="1.05" fill="#a6bb3e"/>
<circle cx="241.74" cy="320.30" r="0.65" fill="#a6bb3e"/>
<circle cx="239.74" cy="313.17" r="1.05" fill="#a6bb3e"/>
<circle cx="236.38" cy="306.19" r="1.2" fill="#a6bb3e"/>
<circle cx="243.03" cy="319.92" r="0.65" fill="#a6bb3e"/>
<circle cx="240.81" cy="312.85" r="1.05" fill="#a6bb3e"/>
<circle cx="244.30" cy="319.50" r="0.65" fill="#a6bb3e"/>
<circle cx="241.88" cy="312.50" r="1.05" fill="#a6bb3e"/>
<circle cx="245.56" cy="319.04" r="0.65" fill="#a6bb3e"/>
<circle cx="242.93" cy="312.12" r="1.05" fill="#a6bb3e"/>
<circle cx="246.80" cy="318.55" r="0.65" fill="#a6bb3e"/>
<circle cx="248.03" cy="318.02" r="0.65" fill="#a6bb3e"/>
<circle cx="244.49" cy="311.49" r="1.05" fill="#a6bb3e"/>
<circle cx="239.93" cy="305.13" r="1.2" fill="#a6bb3e"/>
<circle cx="249.24" cy="317.46" r="0.65" fill="#a6bb3e"/>
<circle cx="250.44" cy="316.86" r="0.65" fill="#a6bb3e"/>
<circle cx="246.53" cy="310.55" r="1.05" fill="#a6bb3e"/>
<circle cx="251.62" cy="316.22" r="0.65" fill="#a6bb3e"/>
<circle cx="248.01" cy="309.76" r="1.05" fill="#a6bb3e"/>
<circle cx="243.72" cy="303.44" r="1.2" fill="#a6bb3e"/>
<circle cx="237.42" cy="297.96" r="1.35" fill="#a6bb3e"/>
<circle cx="232.47" cy="291.49" r="1.45" fill="#a6bb3e"/>
<circle cx="254.33" cy="314.58" r="0.85" fill="#c8202c"/>
<circle cx="250.28" cy="308.39" r="1.05" fill="#c8202c"/>
<circle cx="255.83" cy="313.56" r="0.85" fill="#a6bb3e"/>
<circle cx="251.54" cy="307.53" r="1.05" fill="#a6bb3e"/>
<circle cx="246.63" cy="301.69" r="1.2" fill="#c8202c"/>
<circle cx="242.35" cy="295.41" r="1.35" fill="#a6bb3e"/>
<circle cx="257.28" cy="312.48" r="0.85" fill="#a6bb3e"/>
<circle cx="258.69" cy="311.35" r="0.85" fill="#a6bb3e"/>
<circle cx="253.35" cy="306.16" r="1.05" fill="#a6bb3e"/>
<circle cx="260.06" cy="310.15" r="0.85" fill="#a6bb3e"/>
<circle cx="255.08" cy="304.68" r="1.05" fill="#a6bb3e"/>
<circle cx="249.29" cy="299.65" r="1.2" fill="#a6bb3e"/>
<circle cx="261.38" cy="308.91" r="0.85" fill="#a6bb3e"/>
<circle cx="262.64" cy="307.61" r="0.85" fill="#a6bb3e"/>
<circle cx="256.72" cy="303.10" r="1.05" fill="#a6bb3e"/>
<circle cx="263.86" cy="306.27" r="0.85" fill="#a6bb3e"/>
<circle cx="265.02" cy="304.87" r="0.85" fill="#a6bb3e"/>
<circle cx="258.76" cy="300.84" r="1.05" fill="#a6bb3e"/>
<circle cx="266.12" cy="303.43" r="0.85" fill="#a6bb3e"/>
<circle cx="260.16" cy="299.05" r="1.05" fill="#a6bb3e"/>
<circle cx="267.17" cy="301.95" r="0.85" fill="#a6bb3e"/>
<circle cx="261.04" cy="297.81" r="1.05" fill="#a6bb3e"/>
<circle cx="253.30" cy="295.51" r="1.2" fill="#a6bb3e"/>
<circle cx="245.93" cy="292.39" r="1.35" fill="#a6bb3e"/>
<circle cx="268.15" cy="300.43" r="0.85" fill="#a6bb3e"/>
<circle cx="261.86" cy="296.53" r="1.05" fill="#a6bb3e"/>
<circle cx="269.08" cy="298.87" r="0.85" fill="#a6bb3e"/>
<circle cx="269.94" cy="297.28" r="0.85" fill="#a6bb3e"/>
<circle cx="263.01" cy="294.56" r="1.05" fill="#a6bb3e"/>
<circle cx="270.74" cy="295.65" r="0.85" fill="#a6bb3e"/>
<circle cx="271.47" cy="293.99" r="0.85" fill="#a6bb3e"/>
<circle cx="264.34" cy="291.84" r="1.05" fill="#a6bb3e"/>
<circle cx="272.14" cy="292.31" r="0.85" fill="#c8202c"/>
<circle cx="272.73" cy="290.60" r="0.85" fill="#a6bb3e"/>
<circle cx="265.46" cy="289.01" r="1.05" fill="#a6bb3e"/>
<circle cx="256.94" cy="289.73" r="1.2" fill="#a6bb3e"/>
<circle cx="250.10" cy="286.42" r="1.35" fill="#a6bb3e"/>
<circle cx="240.87" cy="286.68" r="1.45" fill="#a6bb3e"/>
<circle cx="274.05" cy="285.65" r="0.95" fill="#a6bb3e"/>
<circle cx="266.81" cy="284.15" r="1.05" fill="#a6bb3e"/>
<circle cx="274.65" cy="282.04" r="0.95" fill="#a6bb3e"/>
<circle cx="267.31" cy="281.12" r="1.05" fill="#a6bb3e"/>
<circle cx="259.59" cy="281.40" r="1.2" fill="#a6bb3e"/>
<circle cx="252.09" cy="280.16" r="1.35" fill="#a6bb3e"/>
<circle cx="274.96" cy="278.39" r="0.95" fill="#a6bb3e"/>
<circle cx="267.56" cy="278.07" r="1.05" fill="#a6bb3e"/>
<circle cx="274.97" cy="274.73" r="0.95" fill="#a6bb3e"/>
<circle cx="267.57" cy="275.00" r="1.05" fill="#a6bb3e"/>
<circle cx="260.00" cy="276.51" r="1.2" fill="#a6bb3e"/>
<circle cx="274.69" cy="271.08" r="0.95" fill="#a6bb3e"/>
<circle cx="267.34" cy="271.94" r="1.05" fill="#a6bb3e"/>
<circle cx="259.79" cy="272.83" r="1.2" fill="#a6bb3e"/>
<circle cx="252.36" cy="275.10" r="1.35" fill="#a6bb3e"/>
<circle cx="244.78" cy="277.23" r="1.45" fill="#a6bb3e"/>
<line x1="243.78" y1="281.92" x2="272.34" y2="292.88" stroke="#9a1820" stroke-width="0.9"/>
<circle cx="243.78" cy="281.92" r="1.1" fill="#c8202c"/>
<circle cx="250.87" cy="284.64" r="1.1" fill="#c8202c"/>
<circle cx="257.97" cy="287.37" r="1.1" fill="#c8202c"/>
<circle cx="265.06" cy="290.09" r="1.1" fill="#c8202c"/>
<circle cx="271.97" cy="292.74" r="1.1" fill="#c8202c"/>
<line x1="242.58" y1="296.46" x2="256.58" y2="317.77" stroke="#9a1820" stroke-width="1.0"/>
<circle cx="246.20" cy="301.98" r="1.1" fill="#c8202c"/>
<circle cx="250.37" cy="308.33" r="1.1" fill="#c8202c"/>
<circle cx="254.44" cy="314.51" r="1.1" fill="#c8202c"/>
<line x1="235.03" y1="306.48" x2="238.14" y2="323.09" stroke="#23256e" stroke-width="1.2"/>
<circle cx="236.43" cy="313.95" r="1.1" fill="#2e3192"/>
<circle cx="237.79" cy="321.22" r="1.1" fill="#2e3192"/>
<line x1="223.69" y1="314.17" x2="222.45" y2="322.38" stroke="#9a1820" stroke-width="0.8"/>
<circle cx="222.58" cy="321.49" r="1.1" fill="#c8202c"/>
<circle cx="221.23" cy="275.76" r="1.75" fill="#a6bb3e"/>
<line x1="221.23" y1="275.76" x2="214.05" y2="275.19" stroke="#777" stroke-width="0.4"/>
<circle cx="236.89" cy="276.73" r="0.8" fill="#8f9a34"/>
<line x1="228.20000000000002" y1="276.59999999999997" x2="230.6" y2="276.59999999999997" stroke="#999" stroke-width="0.4"/>
<text transform="translate(235.74 210.50) rotate(6)" font-family="Liberation Sans, Arial, sans-serif" font-size="3.4" fill="#2a2a2a" text-anchor="middle" textLength="20" lengthAdjust="spacingAndGlyphs">Bacteroidetes</text>
<path id="cl2" d="M278.62 229.20A68.2 68.2 0 0 1 290.43 245.97" fill="none"/>
<text font-family="Liberation Sans, Arial, sans-serif" font-size="3.4" fill="#2a2a2a" font-weight="bold"><textPath href="#cl2" textLength="20.6" lengthAdjust="spacingAndGlyphs">Actinobacteria</textPath></text>
<path id="cl3" d="M258.79 221.13A62.6 62.6 0 0 1 285.18 247.98" fill="none"/>
<text font-family="Liberation Sans, Arial, sans-serif" font-size="3.0" fill="#7a6a6a" font-weight="normal"><textPath href="#cl3" textLength="38.2" lengthAdjust="spacingAndGlyphs">Actinobacteridae Actinomycetales</textPath></text>
<text transform="translate(168.00 267.77) rotate(-82.0)" font-family="Liberation Sans, Arial, sans-serif" font-size="3.2" fill="#333" text-anchor="middle">Clostridia</text>
<text transform="translate(185.06 241.38) rotate(-51.7)" font-family="Liberation Sans, Arial, sans-serif" font-size="2.6" fill="#333" text-anchor="middle">Bacilli</text>
<g font-family="Liberation Sans, Arial, sans-serif" font-size="2.3" fill="#7a1a1a" text-anchor="middle">
<text x="276.00" y="262.06">a</text>
<text x="274.16" y="257.27">b</text>
<text x="269.04" y="248.40">c</text>
<text x="265.81" y="244.41">d</text>
<text x="281.21" y="257.31">g</text>
<text x="272.53" y="242.27">f</text>
<text x="282.66" y="246.45">e</text>
<text x="263.95" y="226.93">j</text>
<text x="181.47" y="267.01">r</text>
<text x="180.88" y="270.38">s</text>
<text x="180.47" y="274.64">u</text>
<text x="174.81" y="270.50">t</text>
<text x="174.41" y="276.24">v</text>
<text x="190.95" y="246.83">k</text>
<text x="187.81" y="244.35">l</text>
</g>
<g font-family="Liberation Sans, Arial, sans-serif" font-size="2.3" fill="#2e3192" text-anchor="middle">
<text x="185.30" y="254.73">p</text>
<text x="180.46" y="254.38">q</text>
<text x="238.69" y="326.84">a4</text>
<text x="239.43" y="330.77">a5</text>
</g>
<text transform="translate(288.68 299.16) rotate(111.0)" font-family="Liberation Sans, Arial, sans-serif" font-size="2.2" fill="#555" text-anchor="middle">Mycoplasmatales</text>
<text transform="translate(293.35 300.95) rotate(111.0)" font-family="Liberation Sans, Arial, sans-serif" font-size="2.2" fill="#555" text-anchor="middle">Mollicutes</text>
<text transform="translate(258.25 319.66) rotate(146.3)" font-family="Liberation Sans, Arial, sans-serif" font-size="2.2" fill="#a33" text-anchor="middle">a9</text>
<text transform="translate(260.75 323.41) rotate(146.3)" font-family="Liberation Sans, Arial, sans-serif" font-size="2.2" fill="#a33" text-anchor="middle">a8</text>
<text transform="translate(240.07 333.41) rotate(169.4)" font-family="Liberation Sans, Arial, sans-serif" font-size="2.2" fill="#2e3192" text-anchor="middle">Helicobacter</text>
<text transform="translate(221.92 325.84) rotate(188.6)" font-family="Liberation Sans, Arial, sans-serif" font-size="2.2" fill="#a33" text-anchor="middle">a1</text>
</g>
<g id="legend">
<rect x="308.2" y="197.45" width="5.4" height="2.5" fill="#c0222b" stroke="#7d1a1f" stroke-width="0.35"/>
<rect x="308.2" y="201.66" width="5.4" height="2.5" fill="#c0222b" stroke="#7d1a1f" stroke-width="0.35"/>
<rect x="308.2" y="205.88" width="5.4" height="2.5" fill="#c0222b" stroke="#7d1a1f" stroke-width="0.35"/>
<rect x="308.2" y="210.09" width="5.4" height="2.5" fill="#c0222b" stroke="#7d1a1f" stroke-width="0.35"/>
<rect x="308.2" y="214.30" width="5.4" height="2.5" fill="#c0222b" stroke="#7d1a1f" stroke-width="0.35"/>
<rect x="308.2" y="218.51" width="5.4" height="2.5" fill="#c0222b" stroke="#7d1a1f" stroke-width="0.35"/>
<rect x="308.2" y="222.73" width="5.4" height="2.5" fill="#c0222b" stroke="#7d1a1f" stroke-width="0.35"/>
<rect x="308.2" y="226.94" width="5.4" height="2.5" fill="#c0222b" stroke="#7d1a1f" stroke-width="0.35"/>
<rect x="308.2" y="231.15" width="5.4" height="2.5" fill="#c0222b" stroke="#7d1a1f" stroke-width="0.35"/>
<rect x="308.2" y="235.37" width="5.4" height="2.5" fill="#c0222b" stroke="#7d1a1f" stroke-width="0.35"/>
<rect x="308.2" y="239.58" width="5.4" height="2.5" fill="#c0222b" stroke="#7d1a1f" stroke-width="0.35"/>
<rect x="308.2" y="243.79" width="5.4" height="2.5" fill="#c0222b" stroke="#7d1a1f" stroke-width="0.35"/>
<rect x="308.2" y="248.00" width="5.4" height="2.5" fill="#c0222b" stroke="#7d1a1f" stroke-width="0.35"/>
<rect x="308.2" y="252.22" width="5.4" height="2.5" fill="#c0222b" stroke="#7d1a1f" stroke-width="0.35"/>
<rect x="308.2" y="256.43" width="5.4" height="2.5" fill="#c0222b" stroke="#7d1a1f" stroke-width="0.35"/>
<rect x="308.2" y="260.64" width="5.4" height="2.5" fill="#2c2f86" stroke="#1b1c55" stroke-width="0.35"/>
<rect x="308.2" y="264.86" width="5.4" height="2.5" fill="#2c2f86" stroke="#1b1c55" stroke-width="0.35"/>
<rect x="308.2" y="269.07" width="5.4" height="2.5" fill="#c0222b" stroke="#7d1a1f" stroke-width="0.35"/>
<rect x="308.2" y="273.28" width="5.4" height="2.5" fill="#c0222b" stroke="#7d1a1f" stroke-width="0.35"/>
<rect x="308.2" y="277.49" width="5.4" height="2.5" fill="#c0222b" stroke="#7d1a1f" stroke-width="0.35"/>
<rect x="308.2" y="281.71" width="5.4" height="2.5" fill="#c0222b" stroke="#7d1a1f" stroke-width="0.35"/>
<rect x="308.2" y="285.92" width="5.4" height="2.5" fill="#c0222b" stroke="#7d1a1f" stroke-width="0.35"/>
<rect x="308.2" y="290.13" width="5.4" height="2.5" fill="#c0222b" stroke="#7d1a1f" stroke-width="0.35"/>
<rect x="308.2" y="294.34" width="5.4" height="2.5" fill="#c0222b" stroke="#7d1a1f" stroke-width="0.35"/>
<rect x="308.2" y="298.56" width="5.4" height="2.5" fill="#c0222b" stroke="#7d1a1f" stroke-width="0.35"/>
<rect x="308.2" y="302.77" width="5.4" height="2.5" fill="#c0222b" stroke="#7d1a1f" stroke-width="0.35"/>
<rect x="308.2" y="306.98" width="5.4" height="2.5" fill="#c0222b" stroke="#7d1a1f" stroke-width="0.35"/>
<rect x="308.2" y="311.20" width="5.4" height="2.5" fill="#c0222b" stroke="#7d1a1f" stroke-width="0.35"/>
<rect x="308.2" y="315.41" width="5.4" height="2.5" fill="#c0222b" stroke="#7d1a1f" stroke-width="0.35"/>
<rect x="308.2" y="319.62" width="5.4" height="2.5" fill="#c0222b" stroke="#7d1a1f" stroke-width="0.35"/>
<rect x="308.2" y="323.83" width="5.4" height="2.5" fill="#2c2f86" stroke="#1b1c55" stroke-width="0.35"/>
<rect x="308.2" y="328.05" width="5.4" height="2.5" fill="#2c2f86" stroke="#1b1c55" stroke-width="0.35"/>
<rect x="308.2" y="332.26" width="5.4" height="2.5" fill="#c0222b" stroke="#7d1a1f" stroke-width="0.35"/>
<rect x="308.2" y="336.47" width="5.4" height="2.5" fill="#c0222b" stroke="#7d1a1f" stroke-width="0.35"/>
<rect x="308.2" y="340.69" width="5.4" height="2.5" fill="#c0222b" stroke="#7d1a1f" stroke-width="0.35"/>
<rect x="308.2" y="344.90" width="5.4" height="2.5" fill="#c0222b" stroke="#7d1a1f" stroke-width="0.35"/>
<rect x="308.2" y="349.11" width="5.4" height="2.5" fill="#2c2f86" stroke="#1b1c55" stroke-width="0.35"/>
<rect x="308.2" y="353.32" width="5.4" height="2.5" fill="#c0222b" stroke="#7d1a1f" stroke-width="0.35"/>
<rect x="308.2" y="357.54" width="5.4" height="2.5" fill="#c0222b" stroke="#7d1a1f" stroke-width="0.35"/>
<rect x="308.2" y="361.75" width="5.4" height="2.5" fill="#c0222b" stroke="#7d1a1f" stroke-width="0.35"/>
<g font-family="Liberation Sans, Arial, sans-serif" font-size="3.3" fill="#444" transform="rotate(0.03)">
<text x="316" y="199.75">a: Actinomyces</text>
<text x="316" y="203.96">b: Actinomycetaceae</text>
<text x="316" y="208.18">c: Corynebacterium</text>
<text x="316" y="212.39">d: Corynebacteriaceae</text>
<text x="316" y="216.60">e: Propionibacterium</text>
<text x="316" y="220.81">f: Propionibacteriaceae</text>
<text x="316" y="225.03">g: Actinomycetales</text>
<text x="316" y="229.24">h: Atopobium</text>
<text x="316" y="233.45">i: Coriobacteriaceae</text>
<text x="316" y="237.67">j: Coriobacteriales</text>
<text x="316" y="241.88">k: Staphylococcus</text>
<text x="316" y="246.09">l: Staphylococcaceae</text>
<text x="316" y="250.30">m: Bacillales</text>
<text x="316" y="254.52">n: Lactobacillus</text>
<text x="316" y="258.73">o: Lactobacillaceae</text>
<text x="316" y="262.94">p: Streptococcus</text>
<text x="316" y="267.16">q: Streptococcaceae</text>
<text x="316" y="271.37">r: Catonella</text>
<text x="316" y="275.58">s: Moryella</text>
<text x="316" y="279.79">t: Lachnospiraceae</text>
<text x="316" y="284.01">u: Filifactor</text>
<text x="316" y="288.22">v: Peptostreptococcaceae</text>
<text x="316" y="292.43">w: Dialister</text>
<text x="316" y="296.64">x: Megasphaera</text>
<text x="316" y="300.86">y: Selenomonas</text>
<text x="316" y="305.07">z: Veillonellaceae</text>
<text x="316" y="309.28">a0: Clostridiales</text>
<text x="316" y="313.50">a1: Eikenella</text>
<text x="316" y="317.71">a2: Campylobacter</text>
<text x="316" y="321.92">a3: Campylobacteraceae</text>
<text x="316" y="326.13">a4: Helicobacter</text>
<text x="316" y="330.35">a5: Helicobacteraceae</text>
<text x="316" y="334.56">a6: Acinetobacter</text>
<text x="316" y="338.77">a7: Enhydrobacter</text>
<text x="316" y="342.99">a8: Moraxellaceae</text>
<text x="316" y="347.20">a9: Pseudomonadales</text>
<text x="316" y="351.41">b0: Xanthomonas</text>
<text x="316" y="355.62">b1: Mycoplasma</text>
<text x="316" y="359.84">b2: Mycoplasmataceae</text>
<text x="316" y="364.05">b3: Mycoplasmatales</text>
</g></g>
<text x="12.75" y="456.2" font-family="Liberation Sans, Arial, sans-serif" font-size="4.2" font-weight="normal" fill="#222222" textLength="99" lengthAdjust="spacingAndGlyphs" transform="rotate(0.02)" >Original figure is shown in H. Ikeda et al., pp. 363–375</text>
<text y="487" font-family="Liberation Serif, Times New Roman, serif" font-size="9.7" font-weight="normal" fill="#18355f" transform="rotate(0.02)" stroke="#18355f" stroke-width="0.36"><tspan x="59.63" textLength="27.74" lengthAdjust="spacingAndGlyphs">Official</tspan> <tspan x="89.98" textLength="30.42" lengthAdjust="spacingAndGlyphs">Journal</tspan> <tspan x="123.33" textLength="8.17" lengthAdjust="spacingAndGlyphs">of</tspan></text>
<text y="497.8" font-family="Liberation Serif, Times New Roman, serif" font-size="9.7" font-weight="normal" fill="#18355f" transform="rotate(0.02)" stroke="#18355f" stroke-width="0.36"><tspan x="60.45" textLength="12.52" lengthAdjust="spacingAndGlyphs">The</tspan> <tspan x="77.31" textLength="32.51" lengthAdjust="spacingAndGlyphs">Japanese</tspan> <tspan x="113.18" textLength="27.65" lengthAdjust="spacingAndGlyphs">Society</tspan></text>
<text y="508.5" font-family="Liberation Serif, Times New Roman, serif" font-size="9.7" font-weight="normal" fill="#18355f" transform="rotate(0.02)" stroke="#18355f" stroke-width="0.36"><tspan x="59.87" textLength="7.13" lengthAdjust="spacingAndGlyphs">of</tspan> <tspan x="70.31" textLength="66.43" lengthAdjust="spacingAndGlyphs">Gastroenterology</tspan></text>
<text y="501.5" font-family="Liberation Serif, Times New Roman, serif" font-size="14.4" font-weight="normal" fill="#18355f" transform="rotate(0.02)" stroke="#18355f" stroke-width="0.1"><tspan x="322.30" textLength="51.53" lengthAdjust="spacingAndGlyphs">Springer</tspan></text>
<g fill="none" stroke="#18355f" stroke-width="0.55" stroke-linejoin="round">
<path d="M30.6 479.9Q28.2 482.6 24.6 481.5Q26.2 483.4 27.3 486C29 490 29 496 27 500C26 502.5 25.2 504 25.3 505.8L27.6 506.2Q29.6 506.6 31 508.8Q35 509.6 38.5 514.7Q42 509.6 46 508.8Q47.4 506.6 49.4 506.2L51.7 505.8C51.8 504 51 502.5 50 500C48 496 48 490 49.7 486Q50.8 483.4 52.4 481.5Q48.8 482.6 46.4 479.9Z"/>
<path d="M30.6 479.9Q28.2 482.6 24.6 481.5Q26.2 483.4 27.3 486C29 490 29 496 27 500C26 502.5 25.2 504 25.3 505.8L27.6 506.2Q29.6 506.6 31 508.8Q35 509.6 38.5 514.7Q42 509.6 46 508.8Q47.4 506.6 49.4 506.2L51.7 505.8C51.8 504 51 502.5 50 500C48 496 48 490 49.7 486Q50.8 483.4 52.4 481.5Q48.8 482.6 46.4 479.9Z" transform="translate(38.5 495) scale(0.885 0.925) translate(-38.5 -495)" stroke-width="0.5"/>
<rect x="32.6" y="476.4" width="11.8" height="2.3" rx="1.1"/>
<circle cx="31.9" cy="477.6" r="1.25"/><circle cx="45.1" cy="477.6" r="1.25"/>
</g>
<text y="490.0" font-family="Liberation Serif, Times New Roman, serif" font-size="6.4" font-weight="bold" fill="#18355f" transform="rotate(0.02)" ><tspan x="31.45" textLength="14.35" lengthAdjust="spacingAndGlyphs">JSGE</tspan></text>
<text y="505.0" font-family="Liberation Serif, Times New Roman, serif" font-size="5.6" font-weight="bold" fill="#18355f" transform="rotate(0.02)" ><tspan x="33.12" textLength="11.98" lengthAdjust="spacingAndGlyphs">1898</tspan></text>
<g fill="none" stroke="#18355f" stroke-linecap="round" stroke-linejoin="round">
<path d="M305.0 504.6H317.9" stroke-width="1.3" stroke-linecap="butt"/>
<path d="M305.5 501.8H317.6" stroke-width="0.7"/>
<path d="M306.6 501.5C307 499.5 308.6 498.2 309.9 496.9C308.6 497.6 307 497.8 305.6 497.3L304.6 498.2L302.6 496.2C303.6 494.2 304.9 492.4 306 490.8L305.9 489.2L307.4 489.6L307.6 487.2L309.4 488.6C313.6 488 317.2 491.6 317.3 496.4C317.4 498.4 317.2 500 317.2 501.5" stroke-width="0.85"/>
<path d="M308.4 501.4C309.2 499.2 311.4 497.8 312.3 495.6C312.7 494.6 312.6 493.6 312.2 492.8" stroke-width="0.9"/>
<path d="M306.3 493.6L308.2 492.9" stroke-width="0.6"/>
<path d="M310.8 496.3C309.9 495.9 309.3 495 309.4 494" stroke-width="0.55"/>
</g>
</svg>
</body></html>
